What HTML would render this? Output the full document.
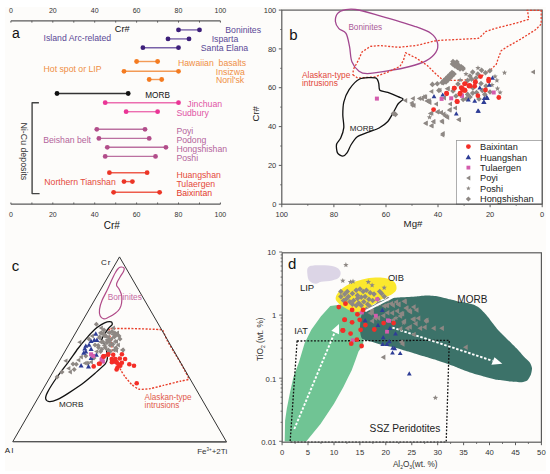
<!DOCTYPE html>
<html><head><meta charset="utf-8"><style>
html,body{margin:0;padding:0;background:#fff;}
body{width:550px;height:474px;overflow:hidden;}
svg{display:block;font-family:"Liberation Sans", sans-serif;}
</style></head><body>
<svg width="550" height="474" viewBox="0 0 550 474">
<rect x="0" y="0" width="550" height="474" fill="#ffffff"/>
<rect x="5" y="7" width="541" height="464" fill="#fdfcfa"/>
<line x1="10.9" y1="20.9" x2="220.4" y2="20.9" stroke="#5a5a5a" stroke-width="1.2" />
<line x1="10.9" y1="20.9" x2="10.9" y2="22.6" stroke="#5a5a5a" stroke-width="1" />
<line x1="31.9" y1="20.9" x2="31.9" y2="22.6" stroke="#5a5a5a" stroke-width="1" />
<line x1="52.8" y1="20.9" x2="52.8" y2="22.6" stroke="#5a5a5a" stroke-width="1" />
<line x1="73.8" y1="20.9" x2="73.8" y2="22.6" stroke="#5a5a5a" stroke-width="1" />
<line x1="94.7" y1="20.9" x2="94.7" y2="22.6" stroke="#5a5a5a" stroke-width="1" />
<line x1="115.7" y1="20.9" x2="115.7" y2="22.6" stroke="#5a5a5a" stroke-width="1" />
<line x1="136.6" y1="20.9" x2="136.6" y2="22.6" stroke="#5a5a5a" stroke-width="1" />
<line x1="157.6" y1="20.9" x2="157.6" y2="22.6" stroke="#5a5a5a" stroke-width="1" />
<line x1="178.5" y1="20.9" x2="178.5" y2="22.6" stroke="#5a5a5a" stroke-width="1" />
<line x1="199.5" y1="20.9" x2="199.5" y2="22.6" stroke="#5a5a5a" stroke-width="1" />
<line x1="220.4" y1="20.9" x2="220.4" y2="22.6" stroke="#5a5a5a" stroke-width="1" />
<text x="10.9" y="12.8" font-size="7" fill="#333" text-anchor="middle" font-weight="normal" >0</text>
<text x="52.8" y="12.8" font-size="7" fill="#333" text-anchor="middle" font-weight="normal" >20</text>
<text x="94.7" y="12.8" font-size="7" fill="#333" text-anchor="middle" font-weight="normal" >40</text>
<text x="136.6" y="12.8" font-size="7" fill="#333" text-anchor="middle" font-weight="normal" >60</text>
<text x="178.5" y="12.8" font-size="7" fill="#333" text-anchor="middle" font-weight="normal" >80</text>
<text x="220.4" y="12.8" font-size="7" fill="#333" text-anchor="middle" font-weight="normal" >100</text>
<line x1="10.9" y1="204.2" x2="220.4" y2="204.2" stroke="#5a5a5a" stroke-width="1.2" />
<line x1="10.9" y1="204.2" x2="10.9" y2="202.5" stroke="#5a5a5a" stroke-width="1" />
<line x1="31.9" y1="204.2" x2="31.9" y2="202.5" stroke="#5a5a5a" stroke-width="1" />
<line x1="52.8" y1="204.2" x2="52.8" y2="202.5" stroke="#5a5a5a" stroke-width="1" />
<line x1="73.8" y1="204.2" x2="73.8" y2="202.5" stroke="#5a5a5a" stroke-width="1" />
<line x1="94.7" y1="204.2" x2="94.7" y2="202.5" stroke="#5a5a5a" stroke-width="1" />
<line x1="115.7" y1="204.2" x2="115.7" y2="202.5" stroke="#5a5a5a" stroke-width="1" />
<line x1="136.6" y1="204.2" x2="136.6" y2="202.5" stroke="#5a5a5a" stroke-width="1" />
<line x1="157.6" y1="204.2" x2="157.6" y2="202.5" stroke="#5a5a5a" stroke-width="1" />
<line x1="178.5" y1="204.2" x2="178.5" y2="202.5" stroke="#5a5a5a" stroke-width="1" />
<line x1="199.5" y1="204.2" x2="199.5" y2="202.5" stroke="#5a5a5a" stroke-width="1" />
<line x1="220.4" y1="204.2" x2="220.4" y2="202.5" stroke="#5a5a5a" stroke-width="1" />
<text x="10.9" y="216.6" font-size="7" fill="#333" text-anchor="middle" font-weight="normal" >0</text>
<text x="52.8" y="216.6" font-size="7" fill="#333" text-anchor="middle" font-weight="normal" >20</text>
<text x="94.7" y="216.6" font-size="7" fill="#333" text-anchor="middle" font-weight="normal" >40</text>
<text x="136.6" y="216.6" font-size="7" fill="#333" text-anchor="middle" font-weight="normal" >60</text>
<text x="178.5" y="216.6" font-size="7" fill="#333" text-anchor="middle" font-weight="normal" >80</text>
<text x="220.4" y="216.6" font-size="7" fill="#333" text-anchor="middle" font-weight="normal" >100</text>
<text x="12.0" y="38.3" font-size="14" fill="#111" text-anchor="start" font-weight="normal" >a</text>
<text x="114.8" y="31.8" font-size="9.2" fill="#111" text-anchor="start" font-weight="normal" >Cr#</text>
<text x="103.8" y="228.5" font-size="10" fill="#111" text-anchor="start" font-weight="normal" >Cr#</text>
<line x1="178.5" y1="29.9" x2="199.5" y2="29.9" stroke="#7861a8" stroke-width="1.4" />
<circle cx="178.5" cy="29.9" r="2.4" fill="#3d1f7a"/>
<circle cx="199.5" cy="29.9" r="2.4" fill="#3d1f7a"/>
<line x1="168.0" y1="38.9" x2="189.0" y2="38.9" stroke="#7861a8" stroke-width="1.4" />
<circle cx="168.0" cy="38.9" r="2.4" fill="#3d1f7a"/>
<circle cx="189.0" cy="38.9" r="2.4" fill="#3d1f7a"/>
<line x1="142.9" y1="47.7" x2="178.5" y2="47.7" stroke="#7861a8" stroke-width="1.4" />
<circle cx="142.9" cy="47.7" r="2.4" fill="#3d1f7a"/>
<circle cx="178.5" cy="47.7" r="2.4" fill="#3d1f7a"/>
<line x1="136.6" y1="61.5" x2="157.6" y2="61.5" stroke="#f39a55" stroke-width="1.4" />
<circle cx="136.6" cy="61.5" r="2.4" fill="#f47b20"/>
<circle cx="157.6" cy="61.5" r="2.4" fill="#f47b20"/>
<line x1="124.0" y1="71.3" x2="178.5" y2="71.3" stroke="#f39a55" stroke-width="1.4" />
<circle cx="124.0" cy="71.3" r="2.4" fill="#f47b20"/>
<circle cx="178.5" cy="71.3" r="2.4" fill="#f47b20"/>
<line x1="149.2" y1="79.5" x2="161.7" y2="79.5" stroke="#f39a55" stroke-width="1.4" />
<circle cx="149.2" cy="79.5" r="2.4" fill="#f47b20"/>
<circle cx="161.7" cy="79.5" r="2.4" fill="#f47b20"/>
<line x1="57.0" y1="93.5" x2="128.2" y2="93.5" stroke="#333" stroke-width="1.4" />
<circle cx="57.0" cy="93.5" r="2.4" fill="#111"/>
<circle cx="128.2" cy="93.5" r="2.4" fill="#111"/>
<line x1="105.2" y1="102.7" x2="178.5" y2="102.7" stroke="#ec6eb0" stroke-width="1.4" />
<circle cx="105.2" cy="102.7" r="2.4" fill="#ea3596"/>
<circle cx="178.5" cy="102.7" r="2.4" fill="#ea3596"/>
<line x1="126.1" y1="111.7" x2="157.6" y2="111.7" stroke="#ec6eb0" stroke-width="1.4" />
<circle cx="126.1" cy="111.7" r="2.4" fill="#ea3596"/>
<circle cx="157.6" cy="111.7" r="2.4" fill="#ea3596"/>
<line x1="96.8" y1="129.3" x2="145.0" y2="129.3" stroke="#bb70a0" stroke-width="1.4" />
<circle cx="96.8" cy="129.3" r="2.4" fill="#b24d8a"/>
<circle cx="145.0" cy="129.3" r="2.4" fill="#b24d8a"/>
<line x1="98.9" y1="138.4" x2="149.2" y2="138.4" stroke="#bb70a0" stroke-width="1.4" />
<circle cx="98.9" cy="138.4" r="2.4" fill="#b24d8a"/>
<circle cx="149.2" cy="138.4" r="2.4" fill="#b24d8a"/>
<line x1="107.3" y1="147.3" x2="165.9" y2="147.3" stroke="#bb70a0" stroke-width="1.4" />
<circle cx="107.3" cy="147.3" r="2.4" fill="#b24d8a"/>
<circle cx="165.9" cy="147.3" r="2.4" fill="#b24d8a"/>
<line x1="105.2" y1="156.4" x2="155.5" y2="156.4" stroke="#bb70a0" stroke-width="1.4" />
<circle cx="105.2" cy="156.4" r="2.4" fill="#b24d8a"/>
<circle cx="155.5" cy="156.4" r="2.4" fill="#b24d8a"/>
<line x1="109.4" y1="172.7" x2="147.1" y2="172.7" stroke="#ee5c4c" stroke-width="1.4" />
<circle cx="109.4" cy="172.7" r="2.4" fill="#ec3526"/>
<circle cx="147.1" cy="172.7" r="2.4" fill="#ec3526"/>
<line x1="124.0" y1="181.6" x2="132.4" y2="181.6" stroke="#ee5c4c" stroke-width="1.4" />
<circle cx="124.0" cy="181.6" r="2.4" fill="#ec3526"/>
<circle cx="132.4" cy="181.6" r="2.4" fill="#ec3526"/>
<line x1="113.6" y1="192.3" x2="159.6" y2="192.3" stroke="#ee5c4c" stroke-width="1.4" />
<circle cx="113.6" cy="192.3" r="2.4" fill="#ec3526"/>
<circle cx="159.6" cy="192.3" r="2.4" fill="#ec3526"/>
<text x="43.6" y="40.5" font-size="8.7" fill="#5a4896" text-anchor="start" font-weight="normal" >Island Arc-related</text>
<text x="225.3" y="33.0" font-size="8.7" fill="#5a4896" text-anchor="start" font-weight="normal" >Boninites</text>
<text x="211.7" y="42.0" font-size="8.7" fill="#5a4896" text-anchor="start" font-weight="normal" >Isparta</text>
<text x="200.8" y="50.7" font-size="8.7" fill="#5a4896" text-anchor="start" font-weight="normal" >Santa Elana</text>
<text x="43.6" y="71.7" font-size="8.7" fill="#ef8f45" text-anchor="start" font-weight="normal" >Hot spot or LIP</text>
<text x="178.0" y="65.6" font-size="8.7" fill="#ef8f45" text-anchor="start" font-weight="normal" >Hawaiian&#160; basalts</text>
<text x="215.8" y="74.5" font-size="8.7" fill="#ef8f45" text-anchor="start" font-weight="normal" >Insizwa</text>
<text x="216.0" y="83.3" font-size="8.7" fill="#ef8f45" text-anchor="start" font-weight="normal" >Noril'sk</text>
<text x="145.3" y="98.2" font-size="8.2" fill="#111" text-anchor="start" font-weight="normal" >MORB</text>
<text x="187.3" y="106.8" font-size="8.7" fill="#e055a5" text-anchor="start" font-weight="normal" >Jinchuan</text>
<text x="176.4" y="115.7" font-size="8.7" fill="#e055a5" text-anchor="start" font-weight="normal" >Sudbury</text>
<text x="43.2" y="142.9" font-size="8.7" fill="#b4649a" text-anchor="start" font-weight="normal" >Beishan belt</text>
<text x="176.4" y="133.6" font-size="8.7" fill="#b4649a" text-anchor="start" font-weight="normal" >Poyi</text>
<text x="176.4" y="142.7" font-size="8.7" fill="#b4649a" text-anchor="start" font-weight="normal" >Podong</text>
<text x="176.4" y="151.6" font-size="8.7" fill="#b4649a" text-anchor="start" font-weight="normal" >Hongshishan</text>
<text x="176.4" y="160.6" font-size="8.7" fill="#b4649a" text-anchor="start" font-weight="normal" >Poshi</text>
<text x="44.3" y="184.6" font-size="8.7" fill="#e44a3a" text-anchor="start" font-weight="normal" >Northern Tianshan</text>
<text x="176.4" y="178.1" font-size="8.7" fill="#e44a3a" text-anchor="start" font-weight="normal" >Huangshan</text>
<text x="176.4" y="187.0" font-size="8.7" fill="#e44a3a" text-anchor="start" font-weight="normal" >Tulaergen</text>
<text x="176.4" y="195.8" font-size="8.7" fill="#e23a2c" text-anchor="start" font-weight="normal" >Baixintan</text>
<polyline points="38.9,102.7 32.1,102.7 32.1,193.6 39.6,193.6" fill="none" stroke="#444" stroke-width="1.4" stroke-linejoin="round" />
<text transform="translate(24.0,151.4) rotate(90)" x="0" y="3.1" font-size="8.8" fill="#333" text-anchor="middle">Ni-Cu deposits</text>
<rect x="281.8" y="10.1" width="260.4" height="194.1" fill="none" stroke="#5a5a5a" stroke-width="1.2"/>
<line x1="278.8" y1="204.2" x2="281.8" y2="204.2" stroke="#5a5a5a" stroke-width="1" />
<line x1="542.2" y1="204.2" x2="542.2" y2="207.2" stroke="#5a5a5a" stroke-width="1" />
<line x1="280.3" y1="184.8" x2="281.8" y2="184.8" stroke="#5a5a5a" stroke-width="1" />
<line x1="516.2" y1="204.2" x2="516.2" y2="205.7" stroke="#5a5a5a" stroke-width="1" />
<line x1="278.8" y1="165.4" x2="281.8" y2="165.4" stroke="#5a5a5a" stroke-width="1" />
<line x1="490.1" y1="204.2" x2="490.1" y2="207.2" stroke="#5a5a5a" stroke-width="1" />
<line x1="280.3" y1="146.0" x2="281.8" y2="146.0" stroke="#5a5a5a" stroke-width="1" />
<line x1="464.1" y1="204.2" x2="464.1" y2="205.7" stroke="#5a5a5a" stroke-width="1" />
<line x1="278.8" y1="126.6" x2="281.8" y2="126.6" stroke="#5a5a5a" stroke-width="1" />
<line x1="438.0" y1="204.2" x2="438.0" y2="207.2" stroke="#5a5a5a" stroke-width="1" />
<line x1="280.3" y1="107.1" x2="281.8" y2="107.1" stroke="#5a5a5a" stroke-width="1" />
<line x1="412.0" y1="204.2" x2="412.0" y2="205.7" stroke="#5a5a5a" stroke-width="1" />
<line x1="278.8" y1="87.7" x2="281.8" y2="87.7" stroke="#5a5a5a" stroke-width="1" />
<line x1="386.0" y1="204.2" x2="386.0" y2="207.2" stroke="#5a5a5a" stroke-width="1" />
<line x1="280.3" y1="68.3" x2="281.8" y2="68.3" stroke="#5a5a5a" stroke-width="1" />
<line x1="359.9" y1="204.2" x2="359.9" y2="205.7" stroke="#5a5a5a" stroke-width="1" />
<line x1="278.8" y1="48.9" x2="281.8" y2="48.9" stroke="#5a5a5a" stroke-width="1" />
<line x1="333.9" y1="204.2" x2="333.9" y2="207.2" stroke="#5a5a5a" stroke-width="1" />
<line x1="280.3" y1="29.5" x2="281.8" y2="29.5" stroke="#5a5a5a" stroke-width="1" />
<line x1="307.8" y1="204.2" x2="307.8" y2="205.7" stroke="#5a5a5a" stroke-width="1" />
<line x1="278.8" y1="10.1" x2="281.8" y2="10.1" stroke="#5a5a5a" stroke-width="1" />
<line x1="281.8" y1="204.2" x2="281.8" y2="207.2" stroke="#5a5a5a" stroke-width="1" />
<text x="276.3" y="206.9" font-size="7.5" fill="#333" text-anchor="end" font-weight="normal" >0</text>
<text x="542.2" y="216.9" font-size="7.5" fill="#333" text-anchor="middle" font-weight="normal" >0</text>
<text x="276.3" y="168.1" font-size="7.5" fill="#333" text-anchor="end" font-weight="normal" >20</text>
<text x="490.1" y="216.9" font-size="7.5" fill="#333" text-anchor="middle" font-weight="normal" >20</text>
<text x="276.3" y="129.3" font-size="7.5" fill="#333" text-anchor="end" font-weight="normal" >40</text>
<text x="438.0" y="216.9" font-size="7.5" fill="#333" text-anchor="middle" font-weight="normal" >40</text>
<text x="276.3" y="90.4" font-size="7.5" fill="#333" text-anchor="end" font-weight="normal" >60</text>
<text x="386.0" y="216.9" font-size="7.5" fill="#333" text-anchor="middle" font-weight="normal" >60</text>
<text x="276.3" y="51.6" font-size="7.5" fill="#333" text-anchor="end" font-weight="normal" >80</text>
<text x="333.9" y="216.9" font-size="7.5" fill="#333" text-anchor="middle" font-weight="normal" >80</text>
<text x="276.3" y="12.8" font-size="7.5" fill="#333" text-anchor="end" font-weight="normal" >100</text>
<text x="281.8" y="216.9" font-size="7.5" fill="#333" text-anchor="middle" font-weight="normal" >100</text>
<text x="289.3" y="39.6" font-size="15" fill="#111" text-anchor="start" font-weight="normal" >b</text>
<text transform="translate(258.7,113.8) rotate(-90)" x="0" y="0" font-size="9.5" fill="#222" text-anchor="middle">Cr#</text>
<text x="403.6" y="226.8" font-size="9.7" fill="#222" text-anchor="start" font-weight="normal" >Mg#</text>
<path d="M337.7,13.3 C339.3,11.4 341.8,10.5 344.8,9.9 C347.8,9.3 349.8,8.6 355.5,9.5 C361.2,10.4 369.2,12.8 379.1,15.6 C389.0,18.4 405.9,23.3 414.6,26.3 C423.3,29.3 427.3,30.6 431.1,33.4 C434.9,36.1 436.7,39.6 437.5,42.8 C438.3,45.9 437.7,49.3 435.8,52.3 C433.9,55.3 430.7,58.2 426.4,60.6 C422.1,63.0 416.5,64.7 409.8,66.5 C403.1,68.3 393.3,70.0 386.2,71.2 C379.1,72.4 371.8,73.6 367.3,73.6 C362.8,73.6 361.6,73.2 359.0,71.2 C356.4,69.2 353.5,65.8 351.9,61.7 C350.3,57.6 350.5,51.1 349.5,46.4 C348.5,41.7 347.8,36.4 346.0,33.4 C344.2,30.4 340.7,30.6 338.9,28.6 C337.1,26.6 335.6,24.1 335.4,21.5 C335.2,18.9 336.1,15.2 337.7,13.3Z" fill="none" stroke="#a2478f" stroke-width="1.3" stroke-linejoin="round" />
<text x="348.4" y="30.0" font-size="8.2" fill="#aa5a98" text-anchor="start" font-weight="normal" >Boninites</text>
<polygon points="352.9,74.8 357.6,78.0 374.5,77.0 389.2,71.6 400.0,66.3 403.6,60.0 405.5,52.7 416.4,58.2 427.3,65.5 434.5,72.7 441.8,79.1 452.7,80.5 474.4,79.5 483.9,74.7 491.5,69.0 496.3,64.2 498.2,58.5 501.1,50.8 506.8,47.0 520.2,39.4 535.5,29.8 541.2,24.1 541.2,10.3 526.9,10.3 527.8,12.6 528.8,19.3 516.4,23.1 497.3,27.9 484.9,31.7 483.0,34.6 478.2,38.4 459.1,39.4 440.0,40.3 434.5,41.0 416.4,45.5 398.2,47.3 380.0,45.5 370.4,46.4 362.0,52.0 358.5,60.0 353.3,69.5" fill="none" stroke="#e8402c" stroke-width="1.3" stroke-linejoin="round" stroke-dasharray="2 1.6"/>
<text x="302.0" y="77.8" font-size="8.4" fill="#e2483a" text-anchor="start" font-weight="normal" >Alaskan-type</text>
<text x="302.0" y="85.6" font-size="8.4" fill="#e2483a" text-anchor="start" font-weight="normal" >intrusions</text>
<path d="M359.7,79.0 C363.2,77.4 373.0,77.3 375.5,77.9 C378.0,78.5 378.1,81.6 378.7,83.2 C379.3,84.8 378.6,89.0 379.8,90.2 C381.0,91.4 385.4,91.5 387.8,92.4 C390.2,93.3 396.0,95.8 398.0,96.7 C400.0,97.6 403.1,97.9 403.1,98.9 C403.1,99.9 399.3,102.3 398.0,104.0 C396.7,105.7 395.0,109.7 393.6,112.0 C392.2,114.3 389.7,119.4 387.8,121.5 C385.9,123.6 381.8,126.5 379.1,128.0 C376.4,129.5 370.4,131.2 367.5,132.4 C364.6,133.6 359.5,135.1 357.3,136.7 C355.1,138.3 352.6,142.3 351.2,144.5 C349.8,146.7 348.1,151.4 347.0,152.9 C345.9,154.4 344.1,156.1 342.8,156.1 C341.5,156.1 338.3,154.4 337.5,152.9 C336.7,151.4 336.1,146.5 336.5,144.5 C336.9,142.5 339.7,140.4 340.7,138.1 C341.7,135.8 343.5,130.7 343.8,127.6 C344.1,124.5 342.8,118.3 342.8,114.9 C342.8,111.5 343.0,105.6 343.8,102.2 C344.6,98.8 347.0,92.7 349.1,89.6 C351.2,86.5 356.2,80.6 359.7,79.0Z" fill="none" stroke="#111" stroke-width="1.3" stroke-linejoin="round" />
<text x="349.8" y="130.9" font-size="8.0" fill="#222" text-anchor="start" font-weight="normal" >MORB</text>
<polygon points="454.2,60.8 457.0,63.6 454.2,66.4 451.4,63.6" fill="#8e8884" stroke="none" stroke-width="1" stroke-linejoin="round" />
<polygon points="456.9,59.2 459.7,62.0 456.9,64.8 454.1,62.0" fill="#8e8884" stroke="none" stroke-width="1" stroke-linejoin="round" />
<polygon points="458.5,62.5 461.3,65.3 458.5,68.1 455.7,65.3" fill="#8e8884" stroke="none" stroke-width="1" stroke-linejoin="round" />
<polygon points="461.3,64.1 464.1,66.9 461.3,69.7 458.5,66.9" fill="#8e8884" stroke="none" stroke-width="1" stroke-linejoin="round" />
<polygon points="462.9,65.2 465.7,68.0 462.9,70.8 460.1,68.0" fill="#8e8884" stroke="none" stroke-width="1" stroke-linejoin="round" />
<polygon points="453.1,70.7 455.9,73.5 453.1,76.3 450.3,73.5" fill="#8e8884" stroke="none" stroke-width="1" stroke-linejoin="round" />
<polygon points="450.9,72.8 453.7,75.6 450.9,78.4 448.1,75.6" fill="#8e8884" stroke="none" stroke-width="1" stroke-linejoin="round" />
<polygon points="448.7,74.5 451.5,77.3 448.7,80.1 445.9,77.3" fill="#8e8884" stroke="none" stroke-width="1" stroke-linejoin="round" />
<polygon points="446.5,76.7 449.3,79.5 446.5,82.3 443.7,79.5" fill="#8e8884" stroke="none" stroke-width="1" stroke-linejoin="round" />
<polygon points="443.8,78.8 446.6,81.6 443.8,84.4 441.0,81.6" fill="#8e8884" stroke="none" stroke-width="1" stroke-linejoin="round" />
<polygon points="443.3,79.9 446.1,82.7 443.3,85.5 440.5,82.7" fill="#8e8884" stroke="none" stroke-width="1" stroke-linejoin="round" />
<polygon points="432.4,81.6 435.2,84.4 432.4,87.2 429.6,84.4" fill="#8e8884" stroke="none" stroke-width="1" stroke-linejoin="round" />
<polygon points="437.3,81.0 440.1,83.8 437.3,86.6 434.5,83.8" fill="#8e8884" stroke="none" stroke-width="1" stroke-linejoin="round" />
<polygon points="472.7,69.3 475.5,72.1 472.7,74.9 469.9,72.1" fill="#8e8884" stroke="none" stroke-width="1" stroke-linejoin="round" />
<polygon points="481.6,67.4 484.4,70.2 481.6,73.0 478.8,70.2" fill="#8e8884" stroke="none" stroke-width="1" stroke-linejoin="round" />
<polygon points="477.8,71.2 480.6,74.0 477.8,76.8 475.0,74.0" fill="#8e8884" stroke="none" stroke-width="1" stroke-linejoin="round" />
<polygon points="485.5,69.9 488.3,72.7 485.5,75.5 482.7,72.7" fill="#8e8884" stroke="none" stroke-width="1" stroke-linejoin="round" />
<polygon points="489.9,68.0 492.7,70.8 489.9,73.6 487.1,70.8" fill="#8e8884" stroke="none" stroke-width="1" stroke-linejoin="round" />
<polygon points="467.6,77.6 470.4,80.4 467.6,83.2 464.8,80.4" fill="#8e8884" stroke="none" stroke-width="1" stroke-linejoin="round" />
<polygon points="471.5,76.3 474.3,79.1 471.5,81.9 468.7,79.1" fill="#8e8884" stroke="none" stroke-width="1" stroke-linejoin="round" />
<polygon points="481.0,80.7 483.8,83.5 481.0,86.3 478.2,83.5" fill="#8e8884" stroke="none" stroke-width="1" stroke-linejoin="round" />
<polygon points="482.3,87.7 485.1,90.5 482.3,93.3 479.5,90.5" fill="#8e8884" stroke="none" stroke-width="1" stroke-linejoin="round" />
<polygon points="472.7,90.3 475.5,93.1 472.7,95.9 469.9,93.1" fill="#8e8884" stroke="none" stroke-width="1" stroke-linejoin="round" />
<polygon points="467.6,91.6 470.4,94.4 467.6,97.2 464.8,94.4" fill="#8e8884" stroke="none" stroke-width="1" stroke-linejoin="round" />
<polygon points="476.5,89.7 479.3,92.5 476.5,95.3 473.7,92.5" fill="#8e8884" stroke="none" stroke-width="1" stroke-linejoin="round" />
<polygon points="463.2,96.7 466.0,99.5 463.2,102.3 460.4,99.5" fill="#8e8884" stroke="none" stroke-width="1" stroke-linejoin="round" />
<polygon points="466.4,96.0 469.2,98.8 466.4,101.6 463.6,98.8" fill="#8e8884" stroke="none" stroke-width="1" stroke-linejoin="round" />
<polygon points="484.8,91.6 487.6,94.4 484.8,97.2 482.0,94.4" fill="#8e8884" stroke="none" stroke-width="1" stroke-linejoin="round" />
<polygon points="395.4,111.6 398.2,114.4 395.4,117.2 392.6,114.4" fill="#8e8884" stroke="none" stroke-width="1" stroke-linejoin="round" />
<polygon points="393.5,110.7 396.3,113.5 393.5,116.3 390.7,113.5" fill="#8e8884" stroke="none" stroke-width="1" stroke-linejoin="round" />
<polygon points="412.8,102.1 415.6,104.9 412.8,107.7 410.0,104.9" fill="#8e8884" stroke="none" stroke-width="1" stroke-linejoin="round" />
<polygon points="438.9,87.6 441.7,90.4 438.9,93.2 436.1,90.4" fill="#8e8884" stroke="none" stroke-width="1" stroke-linejoin="round" />
<polygon points="470.0,73.2 472.8,76.0 470.0,78.8 467.2,76.0" fill="#8e8884" stroke="none" stroke-width="1" stroke-linejoin="round" />
<polygon points="476.0,75.2 478.8,78.0 476.0,80.8 473.2,78.0" fill="#8e8884" stroke="none" stroke-width="1" stroke-linejoin="round" />
<polygon points="458.0,81.2 460.8,84.0 458.0,86.8 455.2,84.0" fill="#8e8884" stroke="none" stroke-width="1" stroke-linejoin="round" />
<polygon points="453.0,88.2 455.8,91.0 453.0,93.8 450.2,91.0" fill="#8e8884" stroke="none" stroke-width="1" stroke-linejoin="round" />
<polygon points="470.0,94.2 472.8,97.0 470.0,99.8 467.2,97.0" fill="#8e8884" stroke="none" stroke-width="1" stroke-linejoin="round" />
<polygon points="479.0,96.2 481.8,99.0 479.0,101.8 476.2,99.0" fill="#8e8884" stroke="none" stroke-width="1" stroke-linejoin="round" />
<polygon points="486.0,83.2 488.8,86.0 486.0,88.8 483.2,86.0" fill="#8e8884" stroke="none" stroke-width="1" stroke-linejoin="round" />
<polygon points="490.0,89.2 492.8,92.0 490.0,94.8 487.2,92.0" fill="#8e8884" stroke="none" stroke-width="1" stroke-linejoin="round" />
<polygon points="473.0,85.2 475.8,88.0 473.0,90.8 470.2,88.0" fill="#8e8884" stroke="none" stroke-width="1" stroke-linejoin="round" />
<polygon points="456.0,93.2 458.8,96.0 456.0,98.8 453.2,96.0" fill="#8e8884" stroke="none" stroke-width="1" stroke-linejoin="round" />
<polygon points="453.0,58.7 455.8,61.5 453.0,64.3 450.2,61.5" fill="#8e8884" stroke="none" stroke-width="1" stroke-linejoin="round" />
<polygon points="455.0,60.2 457.8,63.0 455.0,65.8 452.2,63.0" fill="#8e8884" stroke="none" stroke-width="1" stroke-linejoin="round" />
<polygon points="457.0,61.7 459.8,64.5 457.0,67.3 454.2,64.5" fill="#8e8884" stroke="none" stroke-width="1" stroke-linejoin="round" />
<polygon points="459.0,63.2 461.8,66.0 459.0,68.8 456.2,66.0" fill="#8e8884" stroke="none" stroke-width="1" stroke-linejoin="round" />
<polygon points="461.0,64.7 463.8,67.5 461.0,70.3 458.2,67.5" fill="#8e8884" stroke="none" stroke-width="1" stroke-linejoin="round" />
<polygon points="463.0,66.2 465.8,69.0 463.0,71.8 460.2,69.0" fill="#8e8884" stroke="none" stroke-width="1" stroke-linejoin="round" />
<polygon points="452.5,61.2 455.3,64.0 452.5,66.8 449.7,64.0" fill="#8e8884" stroke="none" stroke-width="1" stroke-linejoin="round" />
<polygon points="455.0,63.2 457.8,66.0 455.0,68.8 452.2,66.0" fill="#8e8884" stroke="none" stroke-width="1" stroke-linejoin="round" />
<polygon points="457.5,64.7 460.3,67.5 457.5,70.3 454.7,67.5" fill="#8e8884" stroke="none" stroke-width="1" stroke-linejoin="round" />
<polygon points="460.0,66.2 462.8,69.0 460.0,71.8 457.2,69.0" fill="#8e8884" stroke="none" stroke-width="1" stroke-linejoin="round" />
<polygon points="452.0,69.7 454.8,72.5 452.0,75.3 449.2,72.5" fill="#8e8884" stroke="none" stroke-width="1" stroke-linejoin="round" />
<polygon points="450.0,71.7 452.8,74.5 450.0,77.3 447.2,74.5" fill="#8e8884" stroke="none" stroke-width="1" stroke-linejoin="round" />
<polygon points="448.0,73.7 450.8,76.5 448.0,79.3 445.2,76.5" fill="#8e8884" stroke="none" stroke-width="1" stroke-linejoin="round" />
<polygon points="446.0,75.7 448.8,78.5 446.0,81.3 443.2,78.5" fill="#8e8884" stroke="none" stroke-width="1" stroke-linejoin="round" />
<polygon points="444.0,77.7 446.8,80.5 444.0,83.3 441.2,80.5" fill="#8e8884" stroke="none" stroke-width="1" stroke-linejoin="round" />
<polygon points="442.0,79.7 444.8,82.5 442.0,85.3 439.2,82.5" fill="#8e8884" stroke="none" stroke-width="1" stroke-linejoin="round" />
<polygon points="454.0,71.2 456.8,74.0 454.0,76.8 451.2,74.0" fill="#8e8884" stroke="none" stroke-width="1" stroke-linejoin="round" />
<polygon points="452.0,73.2 454.8,76.0 452.0,78.8 449.2,76.0" fill="#8e8884" stroke="none" stroke-width="1" stroke-linejoin="round" />
<polygon points="450.0,75.2 452.8,78.0 450.0,80.8 447.2,78.0" fill="#8e8884" stroke="none" stroke-width="1" stroke-linejoin="round" />
<polygon points="448.0,77.2 450.8,80.0 448.0,82.8 445.2,80.0" fill="#8e8884" stroke="none" stroke-width="1" stroke-linejoin="round" />
<polygon points="446.0,79.2 448.8,82.0 446.0,84.8 443.2,82.0" fill="#8e8884" stroke="none" stroke-width="1" stroke-linejoin="round" />
<polygon points="402.8,100.5 407.2,98.0 407.2,103.0" fill="#8e8884" stroke="none" stroke-width="1" stroke-linejoin="round" />
<polygon points="410.4,98.5 414.8,96.0 414.8,101.0" fill="#8e8884" stroke="none" stroke-width="1" stroke-linejoin="round" />
<polygon points="416.8,98.5 421.2,96.0 421.2,101.0" fill="#8e8884" stroke="none" stroke-width="1" stroke-linejoin="round" />
<polygon points="421.9,96.6 426.3,94.1 426.3,99.1" fill="#8e8884" stroke="none" stroke-width="1" stroke-linejoin="round" />
<polygon points="425.1,101.1 429.5,98.6 429.5,103.6" fill="#8e8884" stroke="none" stroke-width="1" stroke-linejoin="round" />
<polygon points="427.0,102.4 431.4,99.9 431.4,104.9" fill="#8e8884" stroke="none" stroke-width="1" stroke-linejoin="round" />
<polygon points="428.9,91.5 433.3,89.0 433.3,94.0" fill="#8e8884" stroke="none" stroke-width="1" stroke-linejoin="round" />
<polygon points="437.1,90.3 441.5,87.8 441.5,92.8" fill="#8e8884" stroke="none" stroke-width="1" stroke-linejoin="round" />
<polygon points="445.4,88.4 449.8,85.9 449.8,90.9" fill="#8e8884" stroke="none" stroke-width="1" stroke-linejoin="round" />
<polygon points="447.3,109.4 451.7,106.9 451.7,111.9" fill="#8e8884" stroke="none" stroke-width="1" stroke-linejoin="round" />
<polygon points="428.9,113.2 433.3,110.7 433.3,115.7" fill="#8e8884" stroke="none" stroke-width="1" stroke-linejoin="round" />
<polygon points="434.6,111.9 439.0,109.4 439.0,114.4" fill="#8e8884" stroke="none" stroke-width="1" stroke-linejoin="round" />
<polygon points="438.4,112.5 442.8,110.0 442.8,115.0" fill="#8e8884" stroke="none" stroke-width="1" stroke-linejoin="round" />
<polygon points="442.2,115.7 446.6,113.2 446.6,118.2" fill="#8e8884" stroke="none" stroke-width="1" stroke-linejoin="round" />
<polygon points="444.8,117.6 449.2,115.1 449.2,120.1" fill="#8e8884" stroke="none" stroke-width="1" stroke-linejoin="round" />
<polygon points="430.8,121.5 435.2,119.0 435.2,124.0" fill="#8e8884" stroke="none" stroke-width="1" stroke-linejoin="round" />
<polygon points="423.1,123.4 427.5,120.9 427.5,125.9" fill="#8e8884" stroke="none" stroke-width="1" stroke-linejoin="round" />
<polygon points="439.7,122.1 444.1,119.6 444.1,124.6" fill="#8e8884" stroke="none" stroke-width="1" stroke-linejoin="round" />
<polygon points="428.9,125.9 433.3,123.4 433.3,128.4" fill="#8e8884" stroke="none" stroke-width="1" stroke-linejoin="round" />
<polygon points="456.2,119.5 460.6,117.0 460.6,122.0" fill="#8e8884" stroke="none" stroke-width="1" stroke-linejoin="round" />
<polygon points="440.3,133.5 444.7,131.0 444.7,136.0" fill="#8e8884" stroke="none" stroke-width="1" stroke-linejoin="round" />
<polygon points="530.6,72.0 535.0,69.5 535.0,74.5" fill="#8e8884" stroke="none" stroke-width="1" stroke-linejoin="round" />
<polygon points="409.2,103.0 413.6,100.5 413.6,105.5" fill="#8e8884" stroke="none" stroke-width="1" stroke-linejoin="round" />
<polygon points="411.1,105.4 415.5,102.9 415.5,107.9" fill="#8e8884" stroke="none" stroke-width="1" stroke-linejoin="round" />
<polygon points="424.3,101.1 428.7,98.6 428.7,103.6" fill="#8e8884" stroke="none" stroke-width="1" stroke-linejoin="round" />
<polygon points="426.7,102.1 431.1,99.6 431.1,104.6" fill="#8e8884" stroke="none" stroke-width="1" stroke-linejoin="round" />
<polygon points="427.8,113.5 432.2,111.0 432.2,116.0" fill="#8e8884" stroke="none" stroke-width="1" stroke-linejoin="round" />
<polygon points="435.4,111.5 439.8,109.0 439.8,114.0" fill="#8e8884" stroke="none" stroke-width="1" stroke-linejoin="round" />
<polygon points="438.6,112.8 443.0,110.3 443.0,115.3" fill="#8e8884" stroke="none" stroke-width="1" stroke-linejoin="round" />
<polygon points="441.1,114.1 445.5,111.6 445.5,116.6" fill="#8e8884" stroke="none" stroke-width="1" stroke-linejoin="round" />
<polygon points="443.7,116.6 448.1,114.1 448.1,119.1" fill="#8e8884" stroke="none" stroke-width="1" stroke-linejoin="round" />
<polygon points="446.9,110.3 451.3,107.8 451.3,112.8" fill="#8e8884" stroke="none" stroke-width="1" stroke-linejoin="round" />
<polygon points="423.3,123.0 427.7,120.5 427.7,125.5" fill="#8e8884" stroke="none" stroke-width="1" stroke-linejoin="round" />
<polygon points="431.0,121.7 435.4,119.2 435.4,124.2" fill="#8e8884" stroke="none" stroke-width="1" stroke-linejoin="round" />
<polygon points="439.2,121.1 443.6,118.6 443.6,123.6" fill="#8e8884" stroke="none" stroke-width="1" stroke-linejoin="round" />
<polygon points="429.1,125.5 433.5,123.0 433.5,128.0" fill="#8e8884" stroke="none" stroke-width="1" stroke-linejoin="round" />
<polygon points="456.4,119.8 460.8,117.3 460.8,122.3" fill="#8e8884" stroke="none" stroke-width="1" stroke-linejoin="round" />
<polygon points="439.9,135.1 444.3,132.6 444.3,137.6" fill="#8e8884" stroke="none" stroke-width="1" stroke-linejoin="round" />
<polygon points="426.5,100.7 430.9,98.2 430.9,103.2" fill="#8e8884" stroke="none" stroke-width="1" stroke-linejoin="round" />
<polygon points="422.7,96.9 427.1,94.4 427.1,99.4" fill="#8e8884" stroke="none" stroke-width="1" stroke-linejoin="round" />
<polygon points="419.5,98.8 423.9,96.3 423.9,101.3" fill="#8e8884" stroke="none" stroke-width="1" stroke-linejoin="round" />
<polygon points="444.7,88.7 449.1,86.2 449.1,91.2" fill="#8e8884" stroke="none" stroke-width="1" stroke-linejoin="round" />
<polygon points="447.6,104.0 452.0,101.5 452.0,106.5" fill="#8e8884" stroke="none" stroke-width="1" stroke-linejoin="round" />
<polygon points="433.6,104.0 438.0,101.5 438.0,106.5" fill="#8e8884" stroke="none" stroke-width="1" stroke-linejoin="round" />
<polygon points="441.6,98.0 446.0,95.5 446.0,100.5" fill="#8e8884" stroke="none" stroke-width="1" stroke-linejoin="round" />
<polygon points="452.6,108.0 457.0,105.5 457.0,110.5" fill="#8e8884" stroke="none" stroke-width="1" stroke-linejoin="round" />
<polygon points="504.5,69.9 505.2,71.7 507.2,71.8 505.7,73.1 506.1,75.0 504.5,74.0 502.9,75.0 503.3,73.1 501.8,71.8 503.8,71.7" fill="#8e8884" stroke="none" stroke-width="1" stroke-linejoin="round" />
<polygon points="495.0,73.7 495.7,75.5 497.7,75.6 496.2,76.9 496.6,78.8 495.0,77.8 493.4,78.8 493.8,76.9 492.3,75.6 494.3,75.5" fill="#8e8884" stroke="none" stroke-width="1" stroke-linejoin="round" />
<polygon points="496.9,77.6 497.6,79.4 499.6,79.5 498.1,80.8 498.5,82.7 496.9,81.7 495.3,82.7 495.7,80.8 494.2,79.5 496.2,79.4" fill="#8e8884" stroke="none" stroke-width="1" stroke-linejoin="round" />
<polygon points="497.5,85.8 498.2,87.6 500.2,87.7 498.7,89.0 499.1,90.9 497.5,89.9 495.9,90.9 496.3,89.0 494.8,87.7 496.8,87.6" fill="#8e8884" stroke="none" stroke-width="1" stroke-linejoin="round" />
<polygon points="500.1,89.7 500.8,91.5 502.8,91.6 501.3,92.9 501.7,94.8 500.1,93.8 498.5,94.8 498.9,92.9 497.4,91.6 499.4,91.5" fill="#8e8884" stroke="none" stroke-width="1" stroke-linejoin="round" />
<polygon points="423.9,94.1 424.6,95.9 426.6,96.0 425.1,97.3 425.5,99.2 423.9,98.2 422.3,99.2 422.7,97.3 421.2,96.0 423.2,95.9" fill="#8e8884" stroke="none" stroke-width="1" stroke-linejoin="round" />
<polygon points="429.5,114.5 430.2,116.3 432.2,116.4 430.7,117.7 431.1,119.6 429.5,118.6 427.9,119.6 428.3,117.7 426.8,116.4 428.8,116.3" fill="#8e8884" stroke="none" stroke-width="1" stroke-linejoin="round" />
<polygon points="460.2,77.2 460.9,79.0 462.9,79.1 461.4,80.4 461.8,82.3 460.2,81.3 458.6,82.3 459.0,80.4 457.5,79.1 459.5,79.0" fill="#8e8884" stroke="none" stroke-width="1" stroke-linejoin="round" />
<polygon points="492.0,82.2 492.7,84.0 494.7,84.1 493.2,85.4 493.6,87.3 492.0,86.3 490.4,87.3 490.8,85.4 489.3,84.1 491.3,84.0" fill="#8e8884" stroke="none" stroke-width="1" stroke-linejoin="round" />
<polygon points="466.0,71.2 466.7,73.0 468.7,73.1 467.2,74.4 467.6,76.3 466.0,75.3 464.4,76.3 464.8,74.4 463.3,73.1 465.3,73.0" fill="#8e8884" stroke="none" stroke-width="1" stroke-linejoin="round" />
<polygon points="478.0,65.2 478.7,67.0 480.7,67.1 479.2,68.4 479.6,70.3 478.0,69.3 476.4,70.3 476.8,68.4 475.3,67.1 477.3,67.0" fill="#8e8884" stroke="none" stroke-width="1" stroke-linejoin="round" />
<rect x="374.9" y="96.6" width="4.0" height="4.0" fill="#d45cad"/>
<rect x="439.6" y="96.9" width="4.0" height="4.0" fill="#d45cad"/>
<rect x="449.2" y="96.3" width="4.0" height="4.0" fill="#d45cad"/>
<rect x="460.0" y="93.7" width="4.0" height="4.0" fill="#d45cad"/>
<rect x="491.7" y="90.5" width="4.0" height="4.0" fill="#d45cad"/>
<rect x="459.9" y="93.6" width="4.0" height="4.0" fill="#d45cad"/>
<polygon points="434.0,94.1 436.4,98.3 431.6,98.3" fill="#2e3d96" stroke="none" stroke-width="1" stroke-linejoin="round" />
<polygon points="468.4,97.2 470.8,101.4 466.0,101.4" fill="#2e3d96" stroke="none" stroke-width="1" stroke-linejoin="round" />
<polygon points="474.7,98.5 477.1,102.7 472.3,102.7" fill="#2e3d96" stroke="none" stroke-width="1" stroke-linejoin="round" />
<polygon points="483.6,99.8 486.0,104.0 481.2,104.0" fill="#2e3d96" stroke="none" stroke-width="1" stroke-linejoin="round" />
<polygon points="486.8,94.7 489.2,98.9 484.4,98.9" fill="#2e3d96" stroke="none" stroke-width="1" stroke-linejoin="round" />
<polygon points="479.8,85.2 482.2,89.4 477.4,89.4" fill="#2e3d96" stroke="none" stroke-width="1" stroke-linejoin="round" />
<polygon points="492.5,75.5 494.9,79.7 490.1,79.7" fill="#2e3d96" stroke="none" stroke-width="1" stroke-linejoin="round" />
<polygon points="489.3,82.5 491.7,86.7 486.9,86.7" fill="#2e3d96" stroke="none" stroke-width="1" stroke-linejoin="round" />
<polygon points="484.2,95.9 486.6,100.1 481.8,100.1" fill="#2e3d96" stroke="none" stroke-width="1" stroke-linejoin="round" />
<polygon points="487.4,95.9 489.8,100.1 485.0,100.1" fill="#2e3d96" stroke="none" stroke-width="1" stroke-linejoin="round" />
<polygon points="484.2,99.7 486.6,103.9 481.8,103.9" fill="#2e3d96" stroke="none" stroke-width="1" stroke-linejoin="round" />
<polygon points="478.5,108.6 480.9,112.8 476.1,112.8" fill="#2e3d96" stroke="none" stroke-width="1" stroke-linejoin="round" />
<polygon points="456.3,111.2 458.7,115.4 453.9,115.4" fill="#2e3d96" stroke="none" stroke-width="1" stroke-linejoin="round" />
<polygon points="442.7,92.4 445.1,96.6 440.3,96.6" fill="#2e3d96" stroke="none" stroke-width="1" stroke-linejoin="round" />
<polygon points="477.9,108.6 480.3,112.8 475.5,112.8" fill="#2e3d96" stroke="none" stroke-width="1" stroke-linejoin="round" />
<circle cx="480.5" cy="76.6" r="2.4" fill="#f42e27"/>
<circle cx="475.4" cy="81.7" r="2.4" fill="#f42e27"/>
<circle cx="465.2" cy="83.6" r="2.4" fill="#f42e27"/>
<circle cx="469.6" cy="85.5" r="2.4" fill="#f42e27"/>
<circle cx="474.7" cy="86.2" r="2.4" fill="#f42e27"/>
<circle cx="454.4" cy="88.1" r="2.4" fill="#f42e27"/>
<circle cx="462.0" cy="88.1" r="2.4" fill="#f42e27"/>
<circle cx="464.5" cy="90.0" r="2.4" fill="#f42e27"/>
<circle cx="460.1" cy="93.2" r="2.4" fill="#f42e27"/>
<circle cx="485.5" cy="90.0" r="2.4" fill="#f42e27"/>
<circle cx="477.9" cy="95.7" r="2.4" fill="#f42e27"/>
<circle cx="446.7" cy="93.8" r="2.4" fill="#f42e27"/>
<circle cx="456.9" cy="101.5" r="2.4" fill="#f42e27"/>
<circle cx="488.7" cy="79.2" r="2.4" fill="#f42e27"/>
<circle cx="488.6" cy="81.0" r="2.4" fill="#f42e27"/>
<circle cx="475.3" cy="82.3" r="2.4" fill="#f42e27"/>
<circle cx="470.2" cy="86.1" r="2.4" fill="#f42e27"/>
<circle cx="462.5" cy="89.3" r="2.4" fill="#f42e27"/>
<circle cx="465.1" cy="90.5" r="2.4" fill="#f42e27"/>
<circle cx="498.8" cy="97.5" r="2.4" fill="#f42e27"/>
<circle cx="433.6" cy="109.6" r="2.4" fill="#f42e27"/>
<circle cx="454.2" cy="88.2" r="2.4" fill="#f42e27"/>
<circle cx="464.5" cy="83.8" r="2.4" fill="#f42e27"/>
<circle cx="468.9" cy="86.0" r="2.4" fill="#f42e27"/>
<circle cx="446.5" cy="93.1" r="2.4" fill="#f42e27"/>
<circle cx="457.4" cy="101.7" r="2.4" fill="#f42e27"/>
<circle cx="461.2" cy="87.7" r="2.4" fill="#f42e27"/>
<circle cx="459.9" cy="94.1" r="2.4" fill="#f42e27"/>
<circle cx="463.1" cy="90.3" r="2.4" fill="#f42e27"/>
<rect x="456.4" y="140.4" width="85.8" height="63.8" fill="#fff" stroke="#9a9a9a" stroke-width="0.8"/>
<circle cx="468.4" cy="146.6" r="2.4" fill="#f42e27"/>
<text x="480.0" y="149.9" font-size="9.2" fill="#222" text-anchor="start" font-weight="normal" >Baixintan</text>
<polygon points="468.4,154.6 471.1,159.3 465.6,159.3" fill="#2e3d96" stroke="none" stroke-width="1" stroke-linejoin="round" />
<text x="480.0" y="160.5" font-size="9.2" fill="#222" text-anchor="start" font-weight="normal" >Huangshan</text>
<rect x="466.5" y="165.7" width="3.8" height="3.8" fill="#d45cad"/>
<text x="480.0" y="170.9" font-size="9.2" fill="#222" text-anchor="start" font-weight="normal" >Tulaergen</text>
<polygon points="466.1,178.0 470.3,175.6 470.3,180.4" fill="#8e8884" stroke="none" stroke-width="1" stroke-linejoin="round" />
<text x="480.0" y="181.3" font-size="9.2" fill="#222" text-anchor="start" font-weight="normal" >Poyi</text>
<polygon points="468.4,186.0 469.0,187.5 470.7,187.7 469.4,188.7 469.8,190.3 468.4,189.5 467.0,190.3 467.4,188.7 466.1,187.7 467.8,187.5" fill="#8e8884" stroke="none" stroke-width="1" stroke-linejoin="round" />
<text x="480.0" y="191.7" font-size="9.2" fill="#222" text-anchor="start" font-weight="normal" >Poshi</text>
<polygon points="468.4,196.4 471.0,199.0 468.4,201.6 465.8,199.0" fill="#8e8884" stroke="none" stroke-width="1" stroke-linejoin="round" />
<text x="480.0" y="202.3" font-size="9.2" fill="#222" text-anchor="start" font-weight="normal" >Hongshishan</text>
<line x1="542.2" y1="140.0" x2="542.2" y2="204.2" stroke="#5a5a5a" stroke-width="1.2" />
<line x1="456.0" y1="204.2" x2="542.2" y2="204.2" stroke="#5a5a5a" stroke-width="1.2" />
<text x="11.8" y="270.5" font-size="15" fill="#111" text-anchor="start" font-weight="normal" >c</text>
<text x="100.9" y="264.7" font-size="8.0" fill="#222" text-anchor="start" font-weight="normal" letter-spacing="1.2">Cr</text>
<text x="4.8" y="452.7" font-size="8.0" fill="#222" text-anchor="start" font-weight="normal" letter-spacing="1.4">Al</text>
<text x="197.2" y="454.1" font-size="8" fill="#333">Fe<tspan font-size="4.5" dy="-3.5">3+</tspan><tspan dy="3.5">+2Ti</tspan></text>
<path d="M121.6,267.0 C122.5,267.0 123.9,267.5 124.2,268.2 C124.5,268.9 124.1,270.0 123.5,271.4 C122.9,272.8 121.5,274.7 120.4,276.5 C119.4,278.3 117.8,280.7 117.2,282.2 C116.6,283.7 116.3,284.1 116.6,285.3 C116.9,286.5 118.3,287.4 119.1,289.1 C119.9,290.8 121.2,293.1 121.6,295.4 C122.0,297.7 121.9,300.8 121.6,303.0 C121.3,305.2 120.8,307.0 119.7,308.7 C118.7,310.4 117.1,311.8 115.3,313.2 C113.5,314.6 110.9,316.1 109.0,317.0 C107.1,317.9 105.4,319.1 103.9,318.9 C102.4,318.7 100.8,317.3 100.1,315.7 C99.4,314.1 99.2,311.9 99.5,309.4 C99.8,306.9 100.6,303.9 102.0,300.5 C103.4,297.1 106.0,292.7 107.7,289.1 C109.4,285.5 110.9,281.7 112.2,279.0 C113.5,276.3 114.2,274.5 115.3,272.7 C116.3,270.9 117.5,269.1 118.5,268.2 C119.5,267.2 120.6,267.0 121.6,267.0Z" fill="none" stroke="#b04a88" stroke-width="1.2" stroke-linejoin="round" />
<path d="M110.5,328.9 C115.2,327.7 153.8,329.2 159.1,329.5 C164.4,329.8 162.5,330.4 163.3,331.6 C164.1,332.8 166.4,339.1 167.5,341.1 C168.6,343.1 172.5,349.5 173.8,351.6 C175.1,353.7 179.0,360.2 180.2,362.2 C181.4,364.2 184.6,370.0 185.4,371.7 C186.2,373.4 189.1,378.2 188.6,379.1 C188.1,380.1 182.7,380.6 180.2,381.2 C177.7,381.8 166.3,384.7 163.3,385.4 C160.3,386.1 153.0,388.2 150.6,388.6 C148.2,389.0 140.9,389.6 139.0,389.2 C137.1,388.8 133.0,385.5 131.6,384.3 C130.2,383.1 126.3,378.4 125.3,377.0 C124.2,375.6 121.9,372.1 121.1,370.6 C120.3,369.1 117.7,363.9 116.9,362.2 C116.1,360.5 113.2,355.9 112.7,353.8 C112.2,351.7 111.8,343.6 111.6,341.1 C111.4,338.6 105.8,330.1 110.5,328.9Z" fill="none" stroke="#e8402c" stroke-width="1.4" stroke-linejoin="round" stroke-dasharray="2 1.5"/>
<path d="M111.2,321.9 C112.2,322.2 112.5,323.8 112.1,324.7 C111.7,325.6 109.4,327.2 108.4,328.5 C107.4,329.8 105.5,332.7 104.6,334.2 C103.7,335.7 101.7,338.5 101.7,339.9 C101.7,341.3 104.0,343.3 104.6,344.7 C105.2,346.1 106.1,348.6 106.5,350.4 C106.9,352.2 107.5,356.2 107.4,358.0 C107.3,359.8 107.1,361.7 105.5,363.7 C103.9,365.7 98.0,370.7 95.1,373.2 C92.2,375.7 87.2,380.0 83.7,382.7 C80.2,385.4 72.0,390.8 68.5,393.1 C65.0,395.4 59.6,398.6 57.1,399.7 C54.6,400.8 51.0,401.7 49.5,401.6 C48.0,401.5 46.0,400.1 45.7,398.8 C45.4,397.5 46.1,395.0 47.6,392.1 C49.1,389.2 54.3,381.0 57.1,377.0 C59.9,373.0 65.7,365.6 68.5,361.8 C71.3,358.0 75.5,351.8 78.0,348.5 C80.5,345.2 85.0,339.9 87.5,337.1 C90.0,334.3 94.7,329.5 97.0,327.6 C99.3,325.7 102.7,323.6 104.6,322.8 C106.5,322.0 110.2,321.6 111.2,321.9Z" fill="none" stroke="#111" stroke-width="1.3" stroke-linejoin="round" />
<polygon points="96.4,321.7 98.9,324.2 96.4,326.7 93.9,324.2" fill="#8e8884" stroke="none" stroke-width="1" stroke-linejoin="round" />
<polygon points="98.3,333.7 102.5,331.3 102.5,336.1" fill="#8e8884" stroke="none" stroke-width="1" stroke-linejoin="round" />
<polygon points="104.8,333.3 107.3,335.8 104.8,338.3 102.3,335.8" fill="#8e8884" stroke="none" stroke-width="1" stroke-linejoin="round" />
<polygon points="105.7,332.7 109.9,330.3 109.9,335.1" fill="#8e8884" stroke="none" stroke-width="1" stroke-linejoin="round" />
<polygon points="112.2,329.1 114.7,331.6 112.2,334.1 109.7,331.6" fill="#8e8884" stroke="none" stroke-width="1" stroke-linejoin="round" />
<polygon points="114.1,333.7 118.3,331.3 118.3,336.1" fill="#8e8884" stroke="none" stroke-width="1" stroke-linejoin="round" />
<polygon points="114.3,334.4 116.8,336.9 114.3,339.4 111.8,336.9" fill="#8e8884" stroke="none" stroke-width="1" stroke-linejoin="round" />
<polygon points="104.6,341.1 108.8,338.7 108.8,343.5" fill="#8e8884" stroke="none" stroke-width="1" stroke-linejoin="round" />
<polygon points="110.1,342.8 112.6,345.3 110.1,347.8 107.6,345.3" fill="#8e8884" stroke="none" stroke-width="1" stroke-linejoin="round" />
<polygon points="102.5,347.4 106.7,345.0 106.7,349.8" fill="#8e8884" stroke="none" stroke-width="1" stroke-linejoin="round" />
<polygon points="98.5,344.9 101.0,347.4 98.5,349.9 96.0,347.4" fill="#8e8884" stroke="none" stroke-width="1" stroke-linejoin="round" />
<polygon points="94.1,351.6 98.3,349.2 98.3,354.0" fill="#8e8884" stroke="none" stroke-width="1" stroke-linejoin="round" />
<polygon points="100.6,349.1 103.1,351.6 100.6,354.1 98.1,351.6" fill="#8e8884" stroke="none" stroke-width="1" stroke-linejoin="round" />
<polygon points="113.1,347.4 117.3,345.0 117.3,349.8" fill="#8e8884" stroke="none" stroke-width="1" stroke-linejoin="round" />
<polygon points="110.1,349.1 112.6,351.6 110.1,354.1 107.6,351.6" fill="#8e8884" stroke="none" stroke-width="1" stroke-linejoin="round" />
<polygon points="77.2,342.2 81.4,339.8 81.4,344.6" fill="#8e8884" stroke="none" stroke-width="1" stroke-linejoin="round" />
<polygon points="85.8,353.4 88.3,355.9 85.8,358.4 83.3,355.9" fill="#8e8884" stroke="none" stroke-width="1" stroke-linejoin="round" />
<polygon points="76.1,360.1 80.3,357.7 80.3,362.5" fill="#8e8884" stroke="none" stroke-width="1" stroke-linejoin="round" />
<polygon points="76.3,361.8 78.8,364.3 76.3,366.8 73.8,364.3" fill="#8e8884" stroke="none" stroke-width="1" stroke-linejoin="round" />
<polygon points="82.5,363.2 86.7,360.8 86.7,365.6" fill="#8e8884" stroke="none" stroke-width="1" stroke-linejoin="round" />
<polygon points="87.9,360.7 90.4,363.2 87.9,365.7 85.4,363.2" fill="#8e8884" stroke="none" stroke-width="1" stroke-linejoin="round" />
<polygon points="113.8,350.5 118.0,348.1 118.0,352.9" fill="#8e8884" stroke="none" stroke-width="1" stroke-linejoin="round" />
<polygon points="123.0,347.5 125.5,350.0 123.0,352.5 120.5,350.0" fill="#8e8884" stroke="none" stroke-width="1" stroke-linejoin="round" />
<polygon points="113.8,341.6 118.0,339.2 118.0,344.0" fill="#8e8884" stroke="none" stroke-width="1" stroke-linejoin="round" />
<polygon points="112.9,341.7 115.4,344.2 112.9,346.7 110.4,344.2" fill="#8e8884" stroke="none" stroke-width="1" stroke-linejoin="round" />
<polygon points="66.2,368.4 70.4,366.0 70.4,370.8" fill="#8e8884" stroke="none" stroke-width="1" stroke-linejoin="round" />
<polygon points="74.2,366.9 76.7,369.4 74.2,371.9 71.7,369.4" fill="#8e8884" stroke="none" stroke-width="1" stroke-linejoin="round" />
<polygon points="63.3,360.8 67.5,358.4 67.5,363.2" fill="#8e8884" stroke="none" stroke-width="1" stroke-linejoin="round" />
<polygon points="57.1,374.5 59.6,377.0 57.1,379.5 54.6,377.0" fill="#8e8884" stroke="none" stroke-width="1" stroke-linejoin="round" />
<polygon points="98.7,328.0 102.9,325.6 102.9,330.4" fill="#8e8884" stroke="none" stroke-width="1" stroke-linejoin="round" />
<polygon points="104.0,327.5 106.5,330.0 104.0,332.5 101.5,330.0" fill="#8e8884" stroke="none" stroke-width="1" stroke-linejoin="round" />
<polygon points="96.7,338.0 100.9,335.6 100.9,340.4" fill="#8e8884" stroke="none" stroke-width="1" stroke-linejoin="round" />
<polygon points="103.0,339.5 105.5,342.0 103.0,344.5 100.5,342.0" fill="#8e8884" stroke="none" stroke-width="1" stroke-linejoin="round" />
<polygon points="105.7,337.0 109.9,334.6 109.9,339.4" fill="#8e8884" stroke="none" stroke-width="1" stroke-linejoin="round" />
<polygon points="95.0,342.5 97.5,345.0 95.0,347.5 92.5,345.0" fill="#8e8884" stroke="none" stroke-width="1" stroke-linejoin="round" />
<polygon points="89.7,336.0 93.9,333.6 93.9,338.4" fill="#8e8884" stroke="none" stroke-width="1" stroke-linejoin="round" />
<polygon points="89.0,336.5 91.5,339.0 89.0,341.5 86.5,339.0" fill="#8e8884" stroke="none" stroke-width="1" stroke-linejoin="round" />
<polygon points="78.7,357.0 82.9,354.6 82.9,359.4" fill="#8e8884" stroke="none" stroke-width="1" stroke-linejoin="round" />
<polygon points="73.0,361.5 75.5,364.0 73.0,366.5 70.5,364.0" fill="#8e8884" stroke="none" stroke-width="1" stroke-linejoin="round" />
<polygon points="67.7,372.0 71.9,369.6 71.9,374.4" fill="#8e8884" stroke="none" stroke-width="1" stroke-linejoin="round" />
<polygon points="62.0,369.5 64.5,372.0 62.0,374.5 59.5,372.0" fill="#8e8884" stroke="none" stroke-width="1" stroke-linejoin="round" />
<polygon points="88.7,362.0 92.9,359.6 92.9,364.4" fill="#8e8884" stroke="none" stroke-width="1" stroke-linejoin="round" />
<polygon points="94.0,355.5 96.5,358.0 94.0,360.5 91.5,358.0" fill="#8e8884" stroke="none" stroke-width="1" stroke-linejoin="round" />
<polygon points="103.7,355.0 107.9,352.6 107.9,357.4" fill="#8e8884" stroke="none" stroke-width="1" stroke-linejoin="round" />
<polygon points="109.0,337.5 111.5,340.0 109.0,342.5 106.5,340.0" fill="#8e8884" stroke="none" stroke-width="1" stroke-linejoin="round" />
<polygon points="115.7,345.0 119.9,342.6 119.9,347.4" fill="#8e8884" stroke="none" stroke-width="1" stroke-linejoin="round" />
<polygon points="120.0,336.5 122.5,339.0 120.0,341.5 117.5,339.0" fill="#8e8884" stroke="none" stroke-width="1" stroke-linejoin="round" />
<polygon points="98.1,332.5 102.3,330.1 102.3,334.9" fill="#8e8884" stroke="none" stroke-width="1" stroke-linejoin="round" />
<polygon points="103.3,331.1 105.8,333.6 103.3,336.1 100.8,333.6" fill="#8e8884" stroke="none" stroke-width="1" stroke-linejoin="round" />
<polygon points="107.5,332.5 111.7,330.1 111.7,334.9" fill="#8e8884" stroke="none" stroke-width="1" stroke-linejoin="round" />
<polygon points="114.9,330.4 117.4,332.9 114.9,335.4 112.4,332.9" fill="#8e8884" stroke="none" stroke-width="1" stroke-linejoin="round" />
<polygon points="114.8,332.9 119.0,330.5 119.0,335.3" fill="#8e8884" stroke="none" stroke-width="1" stroke-linejoin="round" />
<polygon points="116.4,332.2 118.9,334.7 116.4,337.2 113.9,334.7" fill="#8e8884" stroke="none" stroke-width="1" stroke-linejoin="round" />
<polygon points="110.4,334.4 114.6,332.0 114.6,336.8" fill="#8e8884" stroke="none" stroke-width="1" stroke-linejoin="round" />
<polygon points="106.2,333.7 108.7,336.2 106.2,338.7 103.7,336.2" fill="#8e8884" stroke="none" stroke-width="1" stroke-linejoin="round" />
<polygon points="104.6,339.8 108.8,337.4 108.8,342.2" fill="#8e8884" stroke="none" stroke-width="1" stroke-linejoin="round" />
<polygon points="109.8,337.3 112.3,339.8 109.8,342.3 107.3,339.8" fill="#8e8884" stroke="none" stroke-width="1" stroke-linejoin="round" />
<polygon points="109.0,338.4 113.2,336.0 113.2,340.8" fill="#8e8884" stroke="none" stroke-width="1" stroke-linejoin="round" />
<polygon points="115.6,339.1 118.1,341.6 115.6,344.1 113.1,341.6" fill="#8e8884" stroke="none" stroke-width="1" stroke-linejoin="round" />
<polygon points="107.5,342.7 111.7,340.3 111.7,345.1" fill="#8e8884" stroke="none" stroke-width="1" stroke-linejoin="round" />
<polygon points="106.9,340.2 109.4,342.7 106.9,345.2 104.4,342.7" fill="#8e8884" stroke="none" stroke-width="1" stroke-linejoin="round" />
<polygon points="109.7,344.9 113.9,342.5 113.9,347.3" fill="#8e8884" stroke="none" stroke-width="1" stroke-linejoin="round" />
<polygon points="99.6,334.4 102.1,336.9 99.6,339.4 97.1,336.9" fill="#8e8884" stroke="none" stroke-width="1" stroke-linejoin="round" />
<polygon points="98.1,342.0 102.3,339.6 102.3,344.4" fill="#8e8884" stroke="none" stroke-width="1" stroke-linejoin="round" />
<polygon points="98.2,343.1 100.7,345.6 98.2,348.1 95.7,345.6" fill="#8e8884" stroke="none" stroke-width="1" stroke-linejoin="round" />
<polygon points="101.7,345.6 105.9,343.2 105.9,348.0" fill="#8e8884" stroke="none" stroke-width="1" stroke-linejoin="round" />
<polygon points="101.8,346.8 104.3,349.3 101.8,351.8 99.3,349.3" fill="#8e8884" stroke="none" stroke-width="1" stroke-linejoin="round" />
<polygon points="103.2,348.5 107.4,346.1 107.4,350.9" fill="#8e8884" stroke="none" stroke-width="1" stroke-linejoin="round" />
<polygon points="108.4,347.5 110.9,350.0 108.4,352.5 105.9,350.0" fill="#8e8884" stroke="none" stroke-width="1" stroke-linejoin="round" />
<polygon points="111.2,350.0 115.4,347.6 115.4,352.4" fill="#8e8884" stroke="none" stroke-width="1" stroke-linejoin="round" />
<polygon points="116.4,346.0 118.9,348.5 116.4,351.0 113.9,348.5" fill="#8e8884" stroke="none" stroke-width="1" stroke-linejoin="round" />
<polygon points="119.9,350.0 124.1,347.6 124.1,352.4" fill="#8e8884" stroke="none" stroke-width="1" stroke-linejoin="round" />
<polygon points="119.0,333.5 121.5,336.0 119.0,338.5 116.5,336.0" fill="#8e8884" stroke="none" stroke-width="1" stroke-linejoin="round" />
<polygon points="110.7,328.0 114.9,325.6 114.9,330.4" fill="#8e8884" stroke="none" stroke-width="1" stroke-linejoin="round" />
<polygon points="95.8,331.3 98.3,335.7 93.3,335.7" fill="#2e3d96" stroke="none" stroke-width="1" stroke-linejoin="round" />
<polygon points="94.3,337.6 96.8,342.0 91.8,342.0" fill="#2e3d96" stroke="none" stroke-width="1" stroke-linejoin="round" />
<polygon points="96.9,337.6 99.4,342.0 94.4,342.0" fill="#2e3d96" stroke="none" stroke-width="1" stroke-linejoin="round" />
<polygon points="91.1,338.7 93.6,343.1 88.6,343.1" fill="#2e3d96" stroke="none" stroke-width="1" stroke-linejoin="round" />
<polygon points="89.0,342.4 91.5,346.8 86.5,346.8" fill="#2e3d96" stroke="none" stroke-width="1" stroke-linejoin="round" />
<polygon points="85.8,343.4 88.3,347.8 83.3,347.8" fill="#2e3d96" stroke="none" stroke-width="1" stroke-linejoin="round" />
<polygon points="84.8,346.1 87.3,350.5 82.3,350.5" fill="#2e3d96" stroke="none" stroke-width="1" stroke-linejoin="round" />
<polygon points="85.8,349.2 88.3,353.6 83.3,353.6" fill="#2e3d96" stroke="none" stroke-width="1" stroke-linejoin="round" />
<polygon points="83.7,350.3 86.2,354.7 81.2,354.7" fill="#2e3d96" stroke="none" stroke-width="1" stroke-linejoin="round" />
<polygon points="81.1,363.0 83.6,367.4 78.6,367.4" fill="#2e3d96" stroke="none" stroke-width="1" stroke-linejoin="round" />
<polygon points="88.5,364.0 91.0,368.4 86.0,368.4" fill="#2e3d96" stroke="none" stroke-width="1" stroke-linejoin="round" />
<polygon points="91.1,355.6 93.6,360.0 88.6,360.0" fill="#2e3d96" stroke="none" stroke-width="1" stroke-linejoin="round" />
<polygon points="91.1,346.6 93.6,351.0 88.6,351.0" fill="#2e3d96" stroke="none" stroke-width="1" stroke-linejoin="round" />
<polygon points="96.4,352.4 98.9,356.8 93.9,356.8" fill="#2e3d96" stroke="none" stroke-width="1" stroke-linejoin="round" />
<rect x="89.1" y="352.3" width="4.0" height="4.0" fill="#d45cad"/>
<rect x="91.2" y="353.9" width="4.0" height="4.0" fill="#d45cad"/>
<rect x="99.6" y="358.1" width="4.0" height="4.0" fill="#d45cad"/>
<rect x="100.7" y="355.4" width="4.0" height="4.0" fill="#d45cad"/>
<rect x="110.7" y="359.7" width="4.0" height="4.0" fill="#d45cad"/>
<rect x="99.9" y="357.0" width="4.0" height="4.0" fill="#d45cad"/>
<rect x="100.9" y="359.6" width="4.0" height="4.0" fill="#d45cad"/>
<rect x="110.9" y="359.6" width="4.0" height="4.0" fill="#d45cad"/>
<circle cx="103.8" cy="356.4" r="2.3" fill="#f42e27"/>
<circle cx="99.0" cy="363.8" r="2.3" fill="#f42e27"/>
<circle cx="93.7" cy="366.4" r="2.3" fill="#f42e27"/>
<circle cx="108.0" cy="354.8" r="2.3" fill="#f42e27"/>
<circle cx="111.7" cy="359.0" r="2.3" fill="#f42e27"/>
<circle cx="112.2" cy="361.1" r="2.3" fill="#f42e27"/>
<circle cx="115.4" cy="359.0" r="2.3" fill="#f42e27"/>
<circle cx="116.4" cy="362.2" r="2.3" fill="#f42e27"/>
<circle cx="117.5" cy="367.5" r="2.3" fill="#f42e27"/>
<circle cx="113.2" cy="354.8" r="2.3" fill="#f42e27"/>
<circle cx="121.9" cy="354.2" r="2.3" fill="#f42e27"/>
<circle cx="119.8" cy="358.5" r="2.3" fill="#f42e27"/>
<circle cx="125.1" cy="359.0" r="2.3" fill="#f42e27"/>
<circle cx="112.9" cy="360.0" r="2.3" fill="#f42e27"/>
<circle cx="111.9" cy="362.2" r="2.3" fill="#f42e27"/>
<circle cx="116.6" cy="362.2" r="2.3" fill="#f42e27"/>
<circle cx="121.9" cy="362.7" r="2.3" fill="#f42e27"/>
<circle cx="118.7" cy="364.3" r="2.3" fill="#f42e27"/>
<circle cx="120.3" cy="365.8" r="2.3" fill="#f42e27"/>
<circle cx="129.3" cy="364.3" r="2.3" fill="#f42e27"/>
<circle cx="134.0" cy="365.8" r="2.3" fill="#f42e27"/>
<circle cx="116.6" cy="369.5" r="2.3" fill="#f42e27"/>
<circle cx="136.7" cy="383.2" r="2.3" fill="#f42e27"/>
<circle cx="99.7" cy="363.7" r="2.3" fill="#f42e27"/>
<circle cx="103.4" cy="356.4" r="2.3" fill="#f42e27"/>
<circle cx="108.2" cy="354.2" r="2.3" fill="#f42e27"/>
<polygon points="119.5,256.9 12.8,441.6 226.5,441.9" fill="none" stroke="#333" stroke-width="1.0" stroke-linejoin="round" />
<line x1="12.8" y1="441.6" x2="226.5" y2="441.9" stroke="#555" stroke-width="1.4" />
<text x="107.7" y="300.3" font-size="8.3" fill="#c56aa4" text-anchor="start" font-weight="normal" >Boninites</text>
<text x="59.0" y="407.4" font-size="8.1" fill="#222" text-anchor="start" font-weight="normal" >MORB</text>
<text x="144.6" y="400.1" font-size="8.15" fill="#e05a4c" text-anchor="start" font-weight="normal" >Alaskan-type</text>
<text x="144.6" y="407.7" font-size="8.15" fill="#e05a4c" text-anchor="start" font-weight="normal" >intrusions</text>
<path d="M308.8,266.7 C311.1,265.2 316.9,265.3 321.2,265.3 C325.5,265.3 331.7,265.7 334.9,266.7 C338.1,267.7 339.7,269.7 340.4,271.5 C341.1,273.3 340.4,276.1 339.0,277.6 C337.6,279.1 335.2,279.7 332.2,280.4 C329.2,281.1 323.9,281.2 321.2,281.8 C318.4,282.4 317.6,283.9 315.7,283.8 C313.8,283.7 310.9,282.7 309.5,281.1 C308.1,279.5 307.5,276.6 307.4,274.2 C307.3,271.8 306.5,268.2 308.8,266.7Z" fill="#dcd5e6" stroke="none" stroke-width="1" stroke-linejoin="round" />
<polygon points="284.7,441.6 285.1,420.6 286.8,408.8 290.1,391.9 293.5,376.8 299.0,362.1 304.7,343.1 311.3,329.8 320.8,316.6 330.3,306.1 345.0,304.0 355.0,306.0 362.0,312.0 364.0,323.0 364.0,335.0 363.0,345.1 358.5,351.5 355.4,360.3 351.6,370.4 347.8,378.0 343.4,386.9 338.9,395.0 334.0,403.8 320.5,424.0 306.2,441.6" fill="#70c494" stroke="none" stroke-width="1" stroke-linejoin="round" />
<path d="M335.7,297.5 C336.0,295.6 337.3,293.1 339.5,290.9 C341.7,288.7 345.2,286.1 349.0,284.2 C352.8,282.3 357.9,280.6 362.3,279.5 C366.7,278.4 371.5,277.8 375.6,277.6 C379.7,277.4 383.8,277.7 387.0,278.5 C390.2,279.3 393.0,280.6 394.6,282.3 C396.2,284.1 396.8,287.1 396.5,289.0 C396.2,290.9 394.9,292.1 392.7,293.7 C390.5,295.3 386.4,296.8 383.2,298.5 C380.0,300.2 376.9,302.3 373.7,304.2 C370.5,306.1 367.4,308.6 364.2,309.9 C361.0,311.2 357.9,312.1 354.7,311.8 C351.5,311.5 348.0,309.6 345.2,308.0 C342.4,306.4 339.2,304.1 337.6,302.3 C336.0,300.6 335.4,299.4 335.7,297.5Z" fill="#fbe82e" stroke="none" stroke-width="1" stroke-linejoin="round" />
<path d="M362.0,314.0 C362.9,312.7 367.8,308.4 370.0,307.0 C372.2,305.6 381.5,300.9 383.6,300.0 C385.7,299.1 389.1,298.5 390.9,298.2 C392.7,297.9 399.2,297.5 401.8,297.3 C404.4,297.1 413.8,296.6 416.4,296.4 C418.9,296.2 425.1,295.5 427.3,295.5 C429.5,295.5 435.9,296.0 438.2,296.4 C440.5,296.8 448.0,298.8 450.0,299.3 C452.0,299.8 456.4,301.0 458.2,301.4 C460.0,301.8 466.1,302.6 467.7,303.0 C469.3,303.4 473.3,304.5 474.5,305.0 C475.7,305.5 479.0,307.6 480.0,308.4 C481.0,309.1 483.3,311.6 484.1,312.5 C484.9,313.4 487.4,316.3 488.2,317.3 C489.0,318.3 491.4,321.5 492.3,322.7 C493.2,323.9 496.5,328.1 497.7,329.5 C498.9,330.9 503.1,335.0 504.5,336.4 C505.9,337.8 510.2,342.0 511.4,343.2 C512.6,344.4 515.5,347.2 516.8,348.6 C518.1,350.0 523.2,355.9 524.5,357.3 C525.8,358.7 529.2,361.6 530.0,362.7 C530.8,363.8 531.9,367.0 532.0,368.2 C532.1,369.4 531.2,373.8 530.7,375.0 C530.2,376.2 528.2,379.8 527.3,380.5 C526.4,381.2 523.4,382.2 521.8,382.3 C520.2,382.4 513.4,381.8 510.9,381.5 C508.4,381.2 500.0,380.3 497.3,379.8 C494.6,379.3 486.3,377.1 483.6,376.4 C480.9,375.7 472.4,373.3 470.0,372.5 C467.6,371.7 461.3,369.2 459.1,368.3 C456.9,367.4 450.4,364.8 448.2,364.0 C446.0,363.2 439.5,361.1 437.3,360.4 C435.1,359.7 428.6,357.8 426.4,357.1 C424.2,356.4 417.7,354.5 415.5,353.8 C413.3,353.1 406.7,351.1 404.5,350.5 C402.3,349.9 395.8,347.8 393.6,347.3 C391.4,346.8 384.9,345.7 382.7,345.1 C380.5,344.6 373.9,342.5 371.8,341.8 C369.7,341.1 363.2,339.7 362.0,338.5 C360.8,337.3 360.1,331.9 360.0,330.0 C359.9,328.1 360.3,321.6 360.5,320.0 C360.7,318.4 361.1,315.3 362.0,314.0Z" fill="#3c7269" stroke="none" stroke-width="1" stroke-linejoin="round" />
<polygon points="297.1,341.0 449.3,340.3 446.2,442.2 290.1,442.2" fill="none" stroke="#111" stroke-width="1.3" stroke-linejoin="round" stroke-dasharray="1.8 1.6"/>
<line x1="294.3" y1="429.0" x2="335.5" y2="330.5" stroke="#fff" stroke-width="1.9" stroke-dasharray="2.5 1.7"/>
<polygon points="339.0,323.9 331.4,330.8 339.0,334.3" fill="#fff" stroke="none" stroke-width="1" stroke-linejoin="round" />
<line x1="392.4" y1="327.6" x2="492.5" y2="360.8" stroke="#fff" stroke-width="1.9" stroke-dasharray="2.5 1.7"/>
<polygon points="502.3,363.8 494.5,357.3 491.4,364.7" fill="#fff" stroke="none" stroke-width="1" stroke-linejoin="round" />
<polygon points="340.9,288.7 343.7,291.5 340.9,294.3 338.1,291.5" fill="#8e8884" stroke="none" stroke-width="1" stroke-linejoin="round" />
<polygon points="344.7,291.3 347.5,294.1 344.7,296.9 341.9,294.1" fill="#8e8884" stroke="none" stroke-width="1" stroke-linejoin="round" />
<polygon points="340.9,293.8 343.7,296.6 340.9,299.4 338.1,296.6" fill="#8e8884" stroke="none" stroke-width="1" stroke-linejoin="round" />
<polygon points="348.5,293.8 351.3,296.6 348.5,299.4 345.7,296.6" fill="#8e8884" stroke="none" stroke-width="1" stroke-linejoin="round" />
<polygon points="352.4,290.7 355.2,293.5 352.4,296.3 349.6,293.5" fill="#8e8884" stroke="none" stroke-width="1" stroke-linejoin="round" />
<polygon points="356.2,287.5 359.0,290.3 356.2,293.1 353.4,290.3" fill="#8e8884" stroke="none" stroke-width="1" stroke-linejoin="round" />
<polygon points="360.0,286.2 362.8,289.0 360.0,291.8 357.2,289.0" fill="#8e8884" stroke="none" stroke-width="1" stroke-linejoin="round" />
<polygon points="363.2,288.7 366.0,291.5 363.2,294.3 360.4,291.5" fill="#8e8884" stroke="none" stroke-width="1" stroke-linejoin="round" />
<polygon points="366.4,287.5 369.2,290.3 366.4,293.1 363.6,290.3" fill="#8e8884" stroke="none" stroke-width="1" stroke-linejoin="round" />
<polygon points="370.2,290.0 373.0,292.8 370.2,295.6 367.4,292.8" fill="#8e8884" stroke="none" stroke-width="1" stroke-linejoin="round" />
<polygon points="374.0,291.3 376.8,294.1 374.0,296.9 371.2,294.1" fill="#8e8884" stroke="none" stroke-width="1" stroke-linejoin="round" />
<polygon points="379.7,288.7 382.5,291.5 379.7,294.3 376.9,291.5" fill="#8e8884" stroke="none" stroke-width="1" stroke-linejoin="round" />
<polygon points="381.6,290.7 384.4,293.5 381.6,296.3 378.8,293.5" fill="#8e8884" stroke="none" stroke-width="1" stroke-linejoin="round" />
<polygon points="384.2,293.8 387.0,296.6 384.2,299.4 381.4,296.6" fill="#8e8884" stroke="none" stroke-width="1" stroke-linejoin="round" />
<polygon points="388.0,296.4 390.8,299.2 388.0,302.0 385.2,299.2" fill="#8e8884" stroke="none" stroke-width="1" stroke-linejoin="round" />
<polygon points="377.8,296.4 380.6,299.2 377.8,302.0 375.0,299.2" fill="#8e8884" stroke="none" stroke-width="1" stroke-linejoin="round" />
<polygon points="372.7,297.7 375.5,300.5 372.7,303.3 369.9,300.5" fill="#8e8884" stroke="none" stroke-width="1" stroke-linejoin="round" />
<polygon points="368.9,296.4 371.7,299.2 368.9,302.0 366.1,299.2" fill="#8e8884" stroke="none" stroke-width="1" stroke-linejoin="round" />
<polygon points="365.1,293.8 367.9,296.6 365.1,299.4 362.3,296.6" fill="#8e8884" stroke="none" stroke-width="1" stroke-linejoin="round" />
<polygon points="361.3,294.5 364.1,297.3 361.3,300.1 358.5,297.3" fill="#8e8884" stroke="none" stroke-width="1" stroke-linejoin="round" />
<polygon points="357.5,295.7 360.3,298.5 357.5,301.3 354.7,298.5" fill="#8e8884" stroke="none" stroke-width="1" stroke-linejoin="round" />
<polygon points="353.6,297.7 356.4,300.5 353.6,303.3 350.8,300.5" fill="#8e8884" stroke="none" stroke-width="1" stroke-linejoin="round" />
<polygon points="349.8,298.9 352.6,301.7 349.8,304.5 347.0,301.7" fill="#8e8884" stroke="none" stroke-width="1" stroke-linejoin="round" />
<polygon points="346.0,296.4 348.8,299.2 346.0,302.0 343.2,299.2" fill="#8e8884" stroke="none" stroke-width="1" stroke-linejoin="round" />
<polygon points="343.5,297.7 346.3,300.5 343.5,303.3 340.7,300.5" fill="#8e8884" stroke="none" stroke-width="1" stroke-linejoin="round" />
<polygon points="358.7,300.2 361.5,303.0 358.7,305.8 355.9,303.0" fill="#8e8884" stroke="none" stroke-width="1" stroke-linejoin="round" />
<polygon points="363.8,298.9 366.6,301.7 363.8,304.5 361.0,301.7" fill="#8e8884" stroke="none" stroke-width="1" stroke-linejoin="round" />
<polygon points="367.6,301.5 370.4,304.3 367.6,307.1 364.8,304.3" fill="#8e8884" stroke="none" stroke-width="1" stroke-linejoin="round" />
<polygon points="370.2,304.0 373.0,306.8 370.2,309.6 367.4,306.8" fill="#8e8884" stroke="none" stroke-width="1" stroke-linejoin="round" />
<polygon points="361.3,302.7 364.1,305.5 361.3,308.3 358.5,305.5" fill="#8e8884" stroke="none" stroke-width="1" stroke-linejoin="round" />
<polygon points="356.2,302.7 359.0,305.5 356.2,308.3 353.4,305.5" fill="#8e8884" stroke="none" stroke-width="1" stroke-linejoin="round" />
<polygon points="352.4,301.5 355.2,304.3 352.4,307.1 349.6,304.3" fill="#8e8884" stroke="none" stroke-width="1" stroke-linejoin="round" />
<polygon points="366.4,306.6 369.2,309.4 366.4,312.2 363.6,309.4" fill="#8e8884" stroke="none" stroke-width="1" stroke-linejoin="round" />
<polygon points="371.5,306.6 374.3,309.4 371.5,312.2 368.7,309.4" fill="#8e8884" stroke="none" stroke-width="1" stroke-linejoin="round" />
<polygon points="377.8,301.5 380.6,304.3 377.8,307.1 375.0,304.3" fill="#8e8884" stroke="none" stroke-width="1" stroke-linejoin="round" />
<polygon points="357.5,292.6 360.3,295.4 357.5,298.2 354.7,295.4" fill="#8e8884" stroke="none" stroke-width="1" stroke-linejoin="round" />
<polygon points="347.3,288.7 350.1,291.5 347.3,294.3 344.5,291.5" fill="#8e8884" stroke="none" stroke-width="1" stroke-linejoin="round" />
<polygon points="426.4,318.1 429.2,320.9 426.4,323.7 423.6,320.9" fill="#8e8884" stroke="none" stroke-width="1" stroke-linejoin="round" />
<polygon points="384.4,305.1 389.1,302.4 389.1,307.9" fill="#8e8884" stroke="none" stroke-width="1" stroke-linejoin="round" />
<polygon points="390.1,305.1 394.8,302.4 394.8,307.9" fill="#8e8884" stroke="none" stroke-width="1" stroke-linejoin="round" />
<polygon points="395.8,304.2 400.5,301.4 400.5,306.9" fill="#8e8884" stroke="none" stroke-width="1" stroke-linejoin="round" />
<polygon points="401.4,301.3 406.1,298.6 406.1,304.1" fill="#8e8884" stroke="none" stroke-width="1" stroke-linejoin="round" />
<polygon points="403.4,308.0 408.1,305.2 408.1,310.8" fill="#8e8884" stroke="none" stroke-width="1" stroke-linejoin="round" />
<polygon points="406.2,310.8 410.9,308.1 410.9,313.6" fill="#8e8884" stroke="none" stroke-width="1" stroke-linejoin="round" />
<polygon points="410.9,307.0 415.6,304.2 415.6,309.8" fill="#8e8884" stroke="none" stroke-width="1" stroke-linejoin="round" />
<polygon points="399.5,313.7 404.2,310.9 404.2,316.4" fill="#8e8884" stroke="none" stroke-width="1" stroke-linejoin="round" />
<polygon points="410.9,319.4 415.6,316.6 415.6,322.1" fill="#8e8884" stroke="none" stroke-width="1" stroke-linejoin="round" />
<polygon points="407.1,327.0 411.8,324.2 411.8,329.8" fill="#8e8884" stroke="none" stroke-width="1" stroke-linejoin="round" />
<polygon points="380.6,315.6 385.3,312.9 385.3,318.4" fill="#8e8884" stroke="none" stroke-width="1" stroke-linejoin="round" />
<polygon points="369.2,312.7 373.9,309.9 373.9,315.4" fill="#8e8884" stroke="none" stroke-width="1" stroke-linejoin="round" />
<polygon points="401.4,321.3 406.1,318.6 406.1,324.1" fill="#8e8884" stroke="none" stroke-width="1" stroke-linejoin="round" />
<polygon points="397.6,328.9 402.3,326.1 402.3,331.6" fill="#8e8884" stroke="none" stroke-width="1" stroke-linejoin="round" />
<polygon points="398.6,342.1 403.3,339.4 403.3,344.9" fill="#8e8884" stroke="none" stroke-width="1" stroke-linejoin="round" />
<polygon points="380.7,357.3 385.4,354.6 385.4,360.1" fill="#8e8884" stroke="none" stroke-width="1" stroke-linejoin="round" />
<polygon points="402.1,301.6 406.8,298.9 406.8,304.4" fill="#8e8884" stroke="none" stroke-width="1" stroke-linejoin="round" />
<polygon points="463.0,347.3 467.7,344.6 467.7,350.1" fill="#8e8884" stroke="none" stroke-width="1" stroke-linejoin="round" />
<polygon points="439.2,328.2 443.9,325.4 443.9,330.9" fill="#8e8884" stroke="none" stroke-width="1" stroke-linejoin="round" />
<polygon points="431.0,328.2 435.7,325.4 435.7,330.9" fill="#8e8884" stroke="none" stroke-width="1" stroke-linejoin="round" />
<polygon points="423.8,320.2 428.5,317.4 428.5,322.9" fill="#8e8884" stroke="none" stroke-width="1" stroke-linejoin="round" />
<polygon points="395.6,304.5 400.3,301.8 400.3,307.2" fill="#8e8884" stroke="none" stroke-width="1" stroke-linejoin="round" />
<polygon points="388.3,303.6 393.0,300.9 393.0,306.4" fill="#8e8884" stroke="none" stroke-width="1" stroke-linejoin="round" />
<polygon points="383.8,305.5 388.5,302.8 388.5,308.2" fill="#8e8884" stroke="none" stroke-width="1" stroke-linejoin="round" />
<polygon points="403.8,308.2 408.5,305.4 408.5,310.9" fill="#8e8884" stroke="none" stroke-width="1" stroke-linejoin="round" />
<polygon points="407.4,311.8 412.1,309.1 412.1,314.6" fill="#8e8884" stroke="none" stroke-width="1" stroke-linejoin="round" />
<polygon points="413.8,310.0 418.5,307.2 418.5,312.8" fill="#8e8884" stroke="none" stroke-width="1" stroke-linejoin="round" />
<polygon points="398.3,313.6 403.0,310.9 403.0,316.4" fill="#8e8884" stroke="none" stroke-width="1" stroke-linejoin="round" />
<polygon points="384.7,312.7 389.4,309.9 389.4,315.4" fill="#8e8884" stroke="none" stroke-width="1" stroke-linejoin="round" />
<polygon points="410.1,319.1 414.8,316.4 414.8,321.9" fill="#8e8884" stroke="none" stroke-width="1" stroke-linejoin="round" />
<polygon points="415.6,318.2 420.3,315.4 420.3,320.9" fill="#8e8884" stroke="none" stroke-width="1" stroke-linejoin="round" />
<polygon points="412.9,323.6 417.6,320.9 417.6,326.4" fill="#8e8884" stroke="none" stroke-width="1" stroke-linejoin="round" />
<polygon points="421.9,327.3 426.6,324.6 426.6,330.1" fill="#8e8884" stroke="none" stroke-width="1" stroke-linejoin="round" />
<polygon points="417.4,328.2 422.1,325.4 422.1,330.9" fill="#8e8884" stroke="none" stroke-width="1" stroke-linejoin="round" />
<polygon points="404.7,328.2 409.4,325.4 409.4,330.9" fill="#8e8884" stroke="none" stroke-width="1" stroke-linejoin="round" />
<polygon points="411.0,334.5 415.7,331.8 415.7,337.2" fill="#8e8884" stroke="none" stroke-width="1" stroke-linejoin="round" />
<polygon points="399.8,344.0 404.5,341.2 404.5,346.8" fill="#8e8884" stroke="none" stroke-width="1" stroke-linejoin="round" />
<polygon points="375.4,318.0 380.1,315.2 380.1,320.8" fill="#8e8884" stroke="none" stroke-width="1" stroke-linejoin="round" />
<polygon points="389.4,313.0 394.1,310.2 394.1,315.8" fill="#8e8884" stroke="none" stroke-width="1" stroke-linejoin="round" />
<polygon points="367.4,313.0 372.1,310.2 372.1,315.8" fill="#8e8884" stroke="none" stroke-width="1" stroke-linejoin="round" />
<polygon points="372.4,318.0 377.1,315.2 377.1,320.8" fill="#8e8884" stroke="none" stroke-width="1" stroke-linejoin="round" />
<polygon points="369.4,321.0 374.1,318.2 374.1,323.8" fill="#8e8884" stroke="none" stroke-width="1" stroke-linejoin="round" />
<polygon points="376.4,303.0 381.1,300.2 381.1,305.8" fill="#8e8884" stroke="none" stroke-width="1" stroke-linejoin="round" />
<polygon points="381.4,306.0 386.1,303.2 386.1,308.8" fill="#8e8884" stroke="none" stroke-width="1" stroke-linejoin="round" />
<polygon points="393.4,302.0 398.1,299.2 398.1,304.8" fill="#8e8884" stroke="none" stroke-width="1" stroke-linejoin="round" />
<polygon points="397.4,316.0 402.1,313.2 402.1,318.8" fill="#8e8884" stroke="none" stroke-width="1" stroke-linejoin="round" />
<polygon points="390.4,320.0 395.1,317.2 395.1,322.8" fill="#8e8884" stroke="none" stroke-width="1" stroke-linejoin="round" />
<polygon points="394.4,311.0 399.1,308.2 399.1,313.8" fill="#8e8884" stroke="none" stroke-width="1" stroke-linejoin="round" />
<polygon points="345.9,262.1 346.6,263.9 348.6,264.0 347.1,265.3 347.5,267.2 345.9,266.2 344.3,267.2 344.7,265.3 343.2,264.0 345.2,263.9" fill="#8e8884" stroke="none" stroke-width="1" stroke-linejoin="round" />
<polygon points="342.8,277.9 343.5,279.7 345.5,279.8 344.0,281.1 344.4,283.0 342.8,282.0 341.2,283.0 341.6,281.1 340.1,279.8 342.1,279.7" fill="#8e8884" stroke="none" stroke-width="1" stroke-linejoin="round" />
<polygon points="350.5,279.2 351.2,281.0 353.2,281.1 351.7,282.4 352.1,284.3 350.5,283.3 348.9,284.3 349.3,282.4 347.8,281.1 349.8,281.0" fill="#8e8884" stroke="none" stroke-width="1" stroke-linejoin="round" />
<polygon points="353.0,278.6 353.7,280.4 355.7,280.5 354.2,281.8 354.6,283.7 353.0,282.7 351.4,283.7 351.8,281.8 350.3,280.5 352.3,280.4" fill="#8e8884" stroke="none" stroke-width="1" stroke-linejoin="round" />
<polygon points="368.3,279.2 369.0,281.0 371.0,281.1 369.5,282.4 369.9,284.3 368.3,283.3 366.7,284.3 367.1,282.4 365.6,281.1 367.6,281.0" fill="#8e8884" stroke="none" stroke-width="1" stroke-linejoin="round" />
<polygon points="372.1,282.4 372.8,284.2 374.8,284.3 373.3,285.6 373.7,287.5 372.1,286.5 370.5,287.5 370.9,285.6 369.4,284.3 371.4,284.2" fill="#8e8884" stroke="none" stroke-width="1" stroke-linejoin="round" />
<polygon points="384.2,284.9 384.9,286.7 386.9,286.8 385.4,288.1 385.8,290.0 384.2,289.0 382.6,290.0 383.0,288.1 381.5,286.8 383.5,286.7" fill="#8e8884" stroke="none" stroke-width="1" stroke-linejoin="round" />
<polygon points="435.4,395.0 436.1,396.8 438.1,396.9 436.6,398.2 437.0,400.1 435.4,399.1 433.8,400.1 434.2,398.2 432.7,396.9 434.7,396.8" fill="#8e8884" stroke="none" stroke-width="1" stroke-linejoin="round" />
<polygon points="403.6,319.9 404.3,321.7 406.3,321.8 404.8,323.1 405.2,325.0 403.6,324.0 402.0,325.0 402.4,323.1 400.9,321.8 402.9,321.7" fill="#8e8884" stroke="none" stroke-width="1" stroke-linejoin="round" />
<polygon points="396.0,315.2 396.7,317.0 398.7,317.1 397.2,318.4 397.6,320.3 396.0,319.3 394.4,320.3 394.8,318.4 393.3,317.1 395.3,317.0" fill="#8e8884" stroke="none" stroke-width="1" stroke-linejoin="round" />
<line x1="365.2" y1="311.2" x2="394.0" y2="296.5" stroke="#fff" stroke-width="2.0" />
<rect x="375.3" y="297.3" width="3.8" height="3.8" fill="#d45cad"/>
<rect x="374.0" y="313.8" width="3.8" height="3.8" fill="#d45cad"/>
<rect x="360.0" y="310.6" width="3.8" height="3.8" fill="#d45cad"/>
<rect x="386.0" y="318.4" width="3.8" height="3.8" fill="#d45cad"/>
<rect x="385.1" y="329.8" width="3.8" height="3.8" fill="#d45cad"/>
<rect x="350.9" y="338.4" width="3.8" height="3.8" fill="#d45cad"/>
<rect x="387.2" y="319.0" width="3.8" height="3.8" fill="#d45cad"/>
<polygon points="382.3,307.7 384.7,311.9 379.9,311.9" fill="#2e3d96" stroke="none" stroke-width="1" stroke-linejoin="round" />
<polygon points="365.1,318.0 367.5,322.2 362.7,322.2" fill="#2e3d96" stroke="none" stroke-width="1" stroke-linejoin="round" />
<polygon points="383.2,335.1 385.6,339.3 380.8,339.3" fill="#2e3d96" stroke="none" stroke-width="1" stroke-linejoin="round" />
<polygon points="387.0,341.7 389.4,345.9 384.6,345.9" fill="#2e3d96" stroke="none" stroke-width="1" stroke-linejoin="round" />
<polygon points="382.7,341.7 385.1,345.9 380.3,345.9" fill="#2e3d96" stroke="none" stroke-width="1" stroke-linejoin="round" />
<polygon points="389.3,339.1 391.7,343.3 386.9,343.3" fill="#2e3d96" stroke="none" stroke-width="1" stroke-linejoin="round" />
<polygon points="394.7,346.1 397.1,350.3 392.3,350.3" fill="#2e3d96" stroke="none" stroke-width="1" stroke-linejoin="round" />
<polygon points="392.5,350.4 394.9,354.6 390.1,354.6" fill="#2e3d96" stroke="none" stroke-width="1" stroke-linejoin="round" />
<polygon points="400.2,350.9 402.6,355.1 397.8,355.1" fill="#2e3d96" stroke="none" stroke-width="1" stroke-linejoin="round" />
<polygon points="395.5,331.3 397.9,335.5 393.1,335.5" fill="#2e3d96" stroke="none" stroke-width="1" stroke-linejoin="round" />
<polygon points="409.3,371.2 411.7,375.4 406.9,375.4" fill="#2e3d96" stroke="none" stroke-width="1" stroke-linejoin="round" />
<polygon points="392.7,345.5 395.1,349.7 390.3,349.7" fill="#2e3d96" stroke="none" stroke-width="1" stroke-linejoin="round" />
<polygon points="378.0,322.7 380.4,326.9 375.6,326.9" fill="#2e3d96" stroke="none" stroke-width="1" stroke-linejoin="round" />
<polygon points="390.0,325.7 392.4,329.9 387.6,329.9" fill="#2e3d96" stroke="none" stroke-width="1" stroke-linejoin="round" />
<circle cx="338.8" cy="307.1" r="2.4" fill="#f42e27"/>
<circle cx="345.5" cy="303.7" r="2.4" fill="#f42e27"/>
<circle cx="352.1" cy="309.9" r="2.4" fill="#f42e27"/>
<circle cx="363.1" cy="309.9" r="2.4" fill="#f42e27"/>
<circle cx="357.4" cy="314.3" r="2.4" fill="#f42e27"/>
<circle cx="359.7" cy="319.8" r="2.4" fill="#f42e27"/>
<circle cx="344.5" cy="319.8" r="2.4" fill="#f42e27"/>
<circle cx="352.1" cy="322.3" r="2.4" fill="#f42e27"/>
<circle cx="365.4" cy="325.1" r="2.4" fill="#f42e27"/>
<circle cx="342.6" cy="330.4" r="2.4" fill="#f42e27"/>
<circle cx="350.6" cy="333.6" r="2.4" fill="#f42e27"/>
<circle cx="360.6" cy="329.8" r="2.4" fill="#f42e27"/>
<circle cx="356.9" cy="339.7" r="2.4" fill="#f42e27"/>
<circle cx="351.2" cy="343.7" r="2.4" fill="#f42e27"/>
<circle cx="361.6" cy="346.0" r="2.4" fill="#f42e27"/>
<circle cx="374.3" cy="329.5" r="2.4" fill="#f42e27"/>
<circle cx="383.6" cy="323.1" r="2.4" fill="#f42e27"/>
<circle cx="393.6" cy="323.1" r="2.4" fill="#f42e27"/>
<circle cx="344.7" cy="319.7" r="2.4" fill="#f42e27"/>
<circle cx="343.1" cy="330.5" r="2.4" fill="#f42e27"/>
<rect x="282.2" y="252.8" width="259.2" height="189.4" fill="none" stroke="#5a5a5a" stroke-width="1.2"/>
<line x1="279.2" y1="441.3" x2="282.2" y2="441.3" stroke="#5a5a5a" stroke-width="0.9" />
<line x1="280.6" y1="422.3" x2="282.2" y2="422.3" stroke="#5a5a5a" stroke-width="0.9" />
<line x1="280.6" y1="411.2" x2="282.2" y2="411.2" stroke="#5a5a5a" stroke-width="0.9" />
<line x1="280.6" y1="403.3" x2="282.2" y2="403.3" stroke="#5a5a5a" stroke-width="0.9" />
<line x1="280.6" y1="397.2" x2="282.2" y2="397.2" stroke="#5a5a5a" stroke-width="0.9" />
<line x1="280.6" y1="392.2" x2="282.2" y2="392.2" stroke="#5a5a5a" stroke-width="0.9" />
<line x1="280.6" y1="388.0" x2="282.2" y2="388.0" stroke="#5a5a5a" stroke-width="0.9" />
<line x1="280.6" y1="384.3" x2="282.2" y2="384.3" stroke="#5a5a5a" stroke-width="0.9" />
<line x1="280.6" y1="381.1" x2="282.2" y2="381.1" stroke="#5a5a5a" stroke-width="0.9" />
<line x1="279.2" y1="378.2" x2="282.2" y2="378.2" stroke="#5a5a5a" stroke-width="0.9" />
<line x1="280.6" y1="359.2" x2="282.2" y2="359.2" stroke="#5a5a5a" stroke-width="0.9" />
<line x1="280.6" y1="348.1" x2="282.2" y2="348.1" stroke="#5a5a5a" stroke-width="0.9" />
<line x1="280.6" y1="340.2" x2="282.2" y2="340.2" stroke="#5a5a5a" stroke-width="0.9" />
<line x1="280.6" y1="334.1" x2="282.2" y2="334.1" stroke="#5a5a5a" stroke-width="0.9" />
<line x1="280.6" y1="329.1" x2="282.2" y2="329.1" stroke="#5a5a5a" stroke-width="0.9" />
<line x1="280.6" y1="324.9" x2="282.2" y2="324.9" stroke="#5a5a5a" stroke-width="0.9" />
<line x1="280.6" y1="321.2" x2="282.2" y2="321.2" stroke="#5a5a5a" stroke-width="0.9" />
<line x1="280.6" y1="318.0" x2="282.2" y2="318.0" stroke="#5a5a5a" stroke-width="0.9" />
<line x1="279.2" y1="315.1" x2="282.2" y2="315.1" stroke="#5a5a5a" stroke-width="0.9" />
<line x1="280.6" y1="296.1" x2="282.2" y2="296.1" stroke="#5a5a5a" stroke-width="0.9" />
<line x1="280.6" y1="285.0" x2="282.2" y2="285.0" stroke="#5a5a5a" stroke-width="0.9" />
<line x1="280.6" y1="277.1" x2="282.2" y2="277.1" stroke="#5a5a5a" stroke-width="0.9" />
<line x1="280.6" y1="271.0" x2="282.2" y2="271.0" stroke="#5a5a5a" stroke-width="0.9" />
<line x1="280.6" y1="266.0" x2="282.2" y2="266.0" stroke="#5a5a5a" stroke-width="0.9" />
<line x1="280.6" y1="261.8" x2="282.2" y2="261.8" stroke="#5a5a5a" stroke-width="0.9" />
<line x1="280.6" y1="258.1" x2="282.2" y2="258.1" stroke="#5a5a5a" stroke-width="0.9" />
<line x1="280.6" y1="254.9" x2="282.2" y2="254.9" stroke="#5a5a5a" stroke-width="0.9" />
<line x1="279.2" y1="252.0" x2="282.2" y2="252.0" stroke="#5a5a5a" stroke-width="0.9" />
<line x1="282.1" y1="442.2" x2="282.1" y2="445.2" stroke="#5a5a5a" stroke-width="1" />
<line x1="295.1" y1="442.2" x2="295.1" y2="443.8" stroke="#5a5a5a" stroke-width="1" />
<text x="282.1" y="455.3" font-size="7.7" fill="#333" text-anchor="middle" font-weight="normal" >0</text>
<line x1="308.0" y1="442.2" x2="308.0" y2="445.2" stroke="#5a5a5a" stroke-width="1" />
<line x1="321.0" y1="442.2" x2="321.0" y2="443.8" stroke="#5a5a5a" stroke-width="1" />
<text x="308.0" y="455.3" font-size="7.7" fill="#333" text-anchor="middle" font-weight="normal" >5</text>
<line x1="334.0" y1="442.2" x2="334.0" y2="445.2" stroke="#5a5a5a" stroke-width="1" />
<line x1="346.9" y1="442.2" x2="346.9" y2="443.8" stroke="#5a5a5a" stroke-width="1" />
<text x="334.0" y="455.3" font-size="7.7" fill="#333" text-anchor="middle" font-weight="normal" >10</text>
<line x1="359.9" y1="442.2" x2="359.9" y2="445.2" stroke="#5a5a5a" stroke-width="1" />
<line x1="372.9" y1="442.2" x2="372.9" y2="443.8" stroke="#5a5a5a" stroke-width="1" />
<text x="359.9" y="455.3" font-size="7.7" fill="#333" text-anchor="middle" font-weight="normal" >15</text>
<line x1="385.8" y1="442.2" x2="385.8" y2="445.2" stroke="#5a5a5a" stroke-width="1" />
<line x1="398.8" y1="442.2" x2="398.8" y2="443.8" stroke="#5a5a5a" stroke-width="1" />
<text x="385.8" y="455.3" font-size="7.7" fill="#333" text-anchor="middle" font-weight="normal" >20</text>
<line x1="411.8" y1="442.2" x2="411.8" y2="445.2" stroke="#5a5a5a" stroke-width="1" />
<line x1="424.7" y1="442.2" x2="424.7" y2="443.8" stroke="#5a5a5a" stroke-width="1" />
<text x="411.8" y="455.3" font-size="7.7" fill="#333" text-anchor="middle" font-weight="normal" >25</text>
<line x1="437.7" y1="442.2" x2="437.7" y2="445.2" stroke="#5a5a5a" stroke-width="1" />
<line x1="450.6" y1="442.2" x2="450.6" y2="443.8" stroke="#5a5a5a" stroke-width="1" />
<text x="437.7" y="455.3" font-size="7.7" fill="#333" text-anchor="middle" font-weight="normal" >30</text>
<line x1="463.6" y1="442.2" x2="463.6" y2="445.2" stroke="#5a5a5a" stroke-width="1" />
<line x1="476.6" y1="442.2" x2="476.6" y2="443.8" stroke="#5a5a5a" stroke-width="1" />
<text x="463.6" y="455.3" font-size="7.7" fill="#333" text-anchor="middle" font-weight="normal" >35</text>
<line x1="489.5" y1="442.2" x2="489.5" y2="445.2" stroke="#5a5a5a" stroke-width="1" />
<line x1="502.5" y1="442.2" x2="502.5" y2="443.8" stroke="#5a5a5a" stroke-width="1" />
<text x="489.5" y="455.3" font-size="7.7" fill="#333" text-anchor="middle" font-weight="normal" >40</text>
<line x1="515.5" y1="442.2" x2="515.5" y2="445.2" stroke="#5a5a5a" stroke-width="1" />
<line x1="528.4" y1="442.2" x2="528.4" y2="443.8" stroke="#5a5a5a" stroke-width="1" />
<text x="515.5" y="455.3" font-size="7.7" fill="#333" text-anchor="middle" font-weight="normal" >45</text>
<line x1="541.4" y1="442.2" x2="541.4" y2="445.2" stroke="#5a5a5a" stroke-width="1" />
<text x="541.4" y="455.3" font-size="7.7" fill="#333" text-anchor="middle" font-weight="normal" >50</text>
<text x="275.8" y="254.8" font-size="7.7" fill="#333" text-anchor="end" font-weight="normal" >10</text>
<text x="276.3" y="317.9" font-size="7.7" fill="#333" text-anchor="end" font-weight="normal" >1</text>
<text x="276.3" y="381.7" font-size="7.7" fill="#333" text-anchor="end" font-weight="normal" >0.1</text>
<text x="276.3" y="445.0" font-size="7.7" fill="#333" text-anchor="end" font-weight="normal" >0.01</text>
<text x="288.0" y="269.4" font-size="15" fill="#111" text-anchor="start" font-weight="normal" >d</text>
<text transform="translate(262.6,339.3) rotate(-90)" x="0" y="0" font-size="8.2" fill="#333" text-anchor="middle">TiO<tspan font-size="5" dy="2">2</tspan><tspan dy="-2"> (wt. %)</tspan></text>
<text x="392.9" y="467.3" font-size="8.2" fill="#333">Al<tspan font-size="5" dy="2">2</tspan><tspan dy="-2">O</tspan><tspan font-size="5" dy="2">3</tspan><tspan dy="-2">(wt. %)</tspan></text>
<text x="299.9" y="290.9" font-size="9.5" fill="#222" text-anchor="start" font-weight="normal" >LIP</text>
<text x="387.9" y="280.5" font-size="9.3" fill="#222" text-anchor="start" font-weight="normal" >OIB</text>
<text x="294.2" y="334.1" font-size="9.2" fill="#222" text-anchor="start" font-weight="normal" >IAT</text>
<text x="457.3" y="302.8" font-size="10" fill="#222" text-anchor="start" font-weight="normal" >MORB</text>
<text x="369.6" y="431.7" font-size="10.2" fill="#222" text-anchor="start" font-weight="normal" >SSZ Peridotites</text>
</svg>
</body></html>
